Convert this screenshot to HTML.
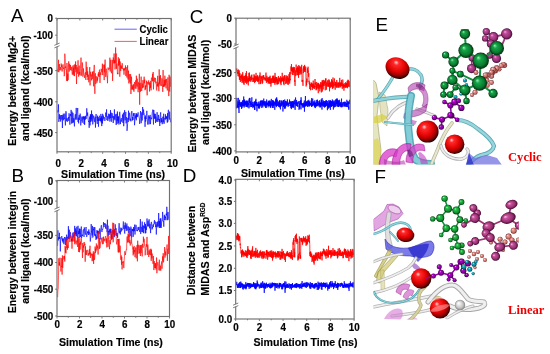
<!DOCTYPE html>
<html><head><meta charset="utf-8"><style>
html,body{margin:0;padding:0;background:#fff;}
svg{display:block}
text{font-family:'Liberation Sans', Arial, sans-serif;fill:#000}
.tk{font-size:11px;font-weight:bold;stroke:#000;stroke-width:0.2px}
.xt{font-size:10.6px;font-weight:bold;stroke:#000;stroke-width:0.15px}
.yl{font-size:10.6px;font-weight:bold;stroke:#000;stroke-width:0.15px}
.lg{font-size:10.3px;font-weight:bold;stroke:#000;stroke-width:0.15px}
.pl{font-size:18.8px}
.mt{font-family:'Liberation Serif','Times New Roman',serif;font-weight:bold;font-size:12.6px;fill:#ee0000}
</style></head><body>
<svg width="550" height="354" viewBox="0 0 550 354">
<rect width="550" height="354" fill="#fff"/>
<text x="11.0" y="21.9" class="pl">A</text>
<polyline points="57.60,69.2 57.90,71.8 58.20,69.0 58.50,59.8 58.80,72.2 59.10,69.6 59.40,64.0 59.70,70.2 60.00,69.0 60.30,68.6 60.61,67.2 60.91,70.4 61.21,63.5 61.51,66.9 61.81,65.3 62.11,71.5 62.41,68.6 62.71,66.9 63.01,64.3 63.31,67.5 63.61,69.0 63.91,67.4 64.21,76.2 64.51,74.5 64.81,53.7 65.11,58.3 65.41,67.9 65.71,66.5 66.01,70.0 66.32,70.0 66.62,80.9 66.92,63.0 67.22,67.3 67.52,81.1 67.82,73.5 68.12,80.1 68.42,67.4 68.72,61.3 69.02,71.7 69.32,71.4 69.62,63.8 69.92,66.7 70.22,70.0 70.52,65.0 70.82,69.6 71.12,70.5 71.42,70.1 71.72,66.9 72.03,72.9 72.33,74.7 72.63,71.7 72.93,65.5 73.23,74.3 73.53,67.6 73.83,75.5 74.13,64.8 74.43,76.1 74.73,71.0 75.03,64.2 75.33,69.3 75.63,61.4 75.93,72.2 76.23,65.0 76.53,84.0 76.83,71.3 77.13,67.3 77.44,71.1 77.74,73.8 78.04,60.3 78.34,71.1 78.64,76.7 78.94,68.3 79.24,65.6 79.54,74.5 79.84,71.9 80.14,75.6 80.44,68.8 80.74,62.7 81.04,57.6 81.34,68.7 81.64,75.7 81.94,72.5 82.24,62.4 82.54,65.0 82.84,76.7 83.15,75.7 83.45,68.4 83.75,72.2 84.05,74.9 84.35,75.3 84.65,77.9 84.95,74.7 85.25,72.9 85.55,72.3 85.85,79.9 86.15,61.7 86.45,73.8 86.75,75.0 87.05,66.9 87.35,76.8 87.65,71.4 87.95,80.0 88.25,74.6 88.55,79.1 88.86,82.3 89.16,77.7 89.46,70.7 89.76,67.1 90.06,85.4 90.36,75.0 90.66,71.7 90.96,76.4 91.26,74.5 91.56,80.4 91.86,75.9 92.16,75.9 92.46,72.0 92.76,79.1 93.06,71.1 93.36,81.1 93.66,86.3 93.96,69.7 94.26,64.9 94.57,82.6 94.87,93.8 95.17,74.4 95.47,73.3 95.77,83.9 96.07,76.1 96.37,77.6 96.67,78.2 96.97,82.7 97.27,77.1 97.57,80.6 97.87,77.7 98.17,73.7 98.47,76.1 98.77,72.1 99.07,77.0 99.37,70.2 99.67,69.6 99.97,82.9 100.28,73.6 100.58,72.6 100.88,74.9 101.18,68.8 101.48,69.1 101.78,72.3 102.08,71.6 102.38,63.7 102.68,75.0 102.98,67.1 103.28,64.7 103.58,65.7 103.88,68.7 104.18,80.1 104.48,64.6 104.78,72.3 105.08,59.6 105.38,71.7 105.69,76.9 105.99,70.7 106.29,68.7 106.59,73.7 106.89,76.4 107.19,76.2 107.49,83.2 107.79,72.6 108.09,67.5 108.39,69.5 108.69,69.1 108.99,69.5 109.29,68.0 109.59,68.5 109.89,57.7 110.19,71.5 110.49,63.4 110.79,59.8 111.09,69.7 111.40,73.3 111.70,68.5 112.00,66.3 112.30,59.9 112.60,80.9 112.90,69.3 113.20,57.5 113.50,58.9 113.80,63.3 114.10,53.5 114.40,63.3 114.70,59.9 115.00,69.4 115.30,68.0 115.60,47.5 115.90,62.9 116.20,53.5 116.50,68.8 116.80,63.4 117.11,65.5 117.41,74.1 117.71,72.9 118.01,74.2 118.31,57.3 118.61,65.8 118.91,60.6 119.21,64.9 119.51,58.6 119.81,76.7 120.11,61.5 120.41,65.9 120.71,71.0 121.01,65.2 121.31,68.1 121.61,66.4 121.91,68.9 122.21,63.2 122.51,67.4 122.82,68.8 123.12,68.2 123.42,70.5 123.72,68.7 124.02,74.7 124.32,68.8 124.62,70.3 124.92,67.9 125.22,69.1 125.52,65.5 125.82,75.9 126.12,67.1 126.42,69.8 126.72,76.6 127.02,77.6 127.32,73.7 127.62,65.3 127.92,79.6 128.22,79.3 128.53,70.6 128.83,83.4 129.13,75.8 129.43,74.1 129.73,81.6 130.03,80.6 130.33,83.5 130.63,74.1 130.93,94.0 131.23,81.2 131.53,76.7 131.83,89.5 132.13,84.8 132.43,89.4 132.73,86.4 133.03,88.5 133.33,90.2 133.63,84.2 133.94,91.7 134.24,84.8 134.54,82.1 134.84,87.0 135.14,88.6 135.44,84.4 135.74,80.4 136.04,88.7 136.34,75.7 136.64,80.0 136.94,86.3 137.24,78.7 137.54,86.8 137.84,86.6 138.14,92.2 138.44,82.3 138.74,84.2 139.04,89.5 139.34,73.8 139.65,104.7 139.95,83.3 140.25,83.0 140.55,91.7 140.85,86.5 141.15,76.6 141.45,90.0 141.75,91.0 142.05,83.5 142.35,84.1 142.65,88.2 142.95,80.1 143.25,87.4 143.55,85.8 143.85,80.8 144.15,76.7 144.45,83.2 144.75,79.6 145.05,90.2 145.36,85.5 145.66,89.2 145.96,85.7 146.26,86.5 146.56,80.7 146.86,89.0 147.16,95.3 147.46,83.6 147.76,81.8 148.06,84.0 148.36,81.9 148.66,80.4 148.96,84.8 149.26,82.1 149.56,91.5 149.86,83.2 150.16,84.8 150.46,88.1 150.76,80.9 151.07,90.4 151.37,78.7 151.67,77.6 151.97,79.9 152.27,81.1 152.57,73.8 152.87,81.3 153.17,72.0 153.47,89.4 153.77,81.5 154.07,78.7 154.37,77.6 154.67,80.9 154.97,82.1 155.27,77.9 155.57,78.9 155.87,83.4 156.17,81.7 156.47,89.6 156.78,90.5 157.08,83.9 157.38,86.2 157.68,75.8 157.98,86.6 158.28,82.6 158.58,85.2 158.88,91.2 159.18,69.4 159.48,83.7 159.78,76.1 160.08,85.7 160.38,75.1 160.68,79.8 160.98,83.8 161.28,86.1 161.58,83.2 161.88,78.4 162.19,79.7 162.49,87.6 162.79,91.9 163.09,70.1 163.39,86.9 163.69,84.4 163.99,86.8 164.29,79.9 164.59,86.3 164.89,75.7 165.19,85.1 165.49,79.5 165.79,86.3 166.09,88.4 166.39,78.9 166.69,83.0 166.99,83.8 167.29,90.5 167.59,88.1 167.90,77.4 168.20,86.8 168.50,88.4 168.80,96.1 169.10,74.8 169.40,81.1 169.70,91.6 170.00,76.5 170.30,77.3 170.60,86.9" fill="none" stroke="#ff0000" stroke-width="0.65" stroke-linejoin="round"/>
<polyline points="57.60,112.6 57.90,110.5 58.20,111.5 58.50,104.4 58.80,121.9 59.10,119.2 59.40,114.2 59.70,119.0 60.00,117.7 60.30,115.2 60.61,121.5 60.91,117.0 61.21,116.9 61.51,115.0 61.81,119.6 62.11,117.3 62.41,128.0 62.71,115.1 63.01,117.7 63.31,113.7 63.61,120.3 63.91,117.9 64.21,118.5 64.51,118.9 64.81,113.6 65.11,120.5 65.41,125.4 65.71,111.5 66.01,111.2 66.32,112.1 66.62,121.0 66.92,118.3 67.22,121.9 67.52,120.5 67.82,118.5 68.12,118.8 68.42,117.0 68.72,120.9 69.02,113.3 69.32,116.0 69.62,118.7 69.92,124.7 70.22,115.1 70.52,114.0 70.82,116.1 71.12,109.9 71.42,117.6 71.72,123.6 72.03,111.6 72.33,122.9 72.63,122.4 72.93,112.9 73.23,118.7 73.53,122.5 73.83,118.1 74.13,121.4 74.43,126.4 74.73,118.3 75.03,116.0 75.33,114.2 75.63,119.6 75.93,116.4 76.23,107.9 76.53,116.8 76.83,119.7 77.13,113.1 77.44,111.4 77.74,108.0 78.04,121.9 78.34,117.7 78.64,123.4 78.94,117.7 79.24,115.1 79.54,119.9 79.84,117.9 80.14,113.6 80.44,115.1 80.74,125.4 81.04,120.1 81.34,120.5 81.64,118.0 81.94,116.5 82.24,122.7 82.54,119.0 82.84,116.7 83.15,119.2 83.45,116.4 83.75,120.6 84.05,124.0 84.35,116.4 84.65,124.9 84.95,116.7 85.25,119.7 85.55,115.8 85.85,118.0 86.15,118.9 86.45,116.9 86.75,108.3 87.05,115.9 87.35,115.4 87.65,112.5 87.95,117.5 88.25,120.0 88.55,121.9 88.86,120.9 89.16,127.8 89.46,119.6 89.76,116.6 90.06,125.4 90.36,114.3 90.66,121.9 90.96,114.5 91.26,119.4 91.56,110.5 91.86,121.3 92.16,117.2 92.46,114.2 92.76,124.4 93.06,121.1 93.36,118.5 93.66,115.6 93.96,118.4 94.26,118.1 94.57,121.6 94.87,122.1 95.17,116.7 95.47,127.6 95.77,117.1 96.07,114.0 96.37,116.8 96.67,118.6 96.97,121.6 97.27,123.9 97.57,115.7 97.87,120.9 98.17,117.0 98.47,126.7 98.77,118.8 99.07,121.0 99.37,115.7 99.67,116.3 99.97,120.2 100.28,118.1 100.58,121.1 100.88,113.9 101.18,122.4 101.48,116.3 101.78,126.1 102.08,118.3 102.38,123.5 102.68,113.8 102.98,120.6 103.28,115.5 103.58,116.9 103.88,118.7 104.18,117.2 104.48,119.3 104.78,121.0 105.08,120.5 105.38,117.6 105.69,112.6 105.99,114.6 106.29,116.8 106.59,109.3 106.89,120.1 107.19,116.4 107.49,116.4 107.79,121.0 108.09,120.0 108.39,118.3 108.69,113.7 108.99,118.7 109.29,118.9 109.59,114.3 109.89,121.6 110.19,119.5 110.49,110.1 110.79,118.0 111.09,112.7 111.40,121.7 111.70,120.4 112.00,113.1 112.30,113.9 112.60,117.6 112.90,116.3 113.20,123.0 113.50,120.0 113.80,116.1 114.10,119.3 114.40,109.4 114.70,118.2 115.00,120.3 115.30,116.3 115.60,114.3 115.90,119.5 116.20,125.0 116.50,118.6 116.80,113.8 117.11,123.9 117.41,111.5 117.71,120.8 118.01,116.9 118.31,122.9 118.61,116.3 118.91,124.5 119.21,120.6 119.51,112.8 119.81,111.8 120.11,118.1 120.41,124.1 120.71,119.7 121.01,119.4 121.31,118.2 121.61,121.7 121.91,120.1 122.21,119.5 122.51,114.5 122.82,122.6 123.12,123.0 123.42,112.7 123.72,126.2 124.02,120.0 124.32,115.3 124.62,110.2 124.92,120.3 125.22,120.2 125.52,116.1 125.82,111.9 126.12,123.3 126.42,117.1 126.72,117.9 127.02,130.8 127.32,128.1 127.62,123.5 127.92,117.9 128.22,122.0 128.53,110.7 128.83,119.6 129.13,116.2 129.43,114.0 129.73,112.7 130.03,120.6 130.33,118.8 130.63,118.9 130.93,121.4 131.23,114.9 131.53,113.3 131.83,111.1 132.13,116.4 132.43,120.5 132.73,116.9 133.03,119.9 133.33,113.1 133.63,115.9 133.94,114.9 134.24,113.2 134.54,125.2 134.84,121.5 135.14,115.5 135.44,115.6 135.74,118.5 136.04,113.2 136.34,120.3 136.64,113.7 136.94,117.2 137.24,114.6 137.54,116.6 137.84,113.4 138.14,112.4 138.44,114.7 138.74,115.7 139.04,117.1 139.34,118.4 139.65,123.9 139.95,121.1 140.25,117.0 140.55,111.1 140.85,115.2 141.15,123.2 141.45,119.7 141.75,112.4 142.05,120.3 142.35,120.4 142.65,107.0 142.95,114.2 143.25,115.1 143.55,109.5 143.85,112.7 144.15,113.0 144.45,118.4 144.75,117.7 145.05,126.8 145.36,115.5 145.66,121.6 145.96,117.7 146.26,118.7 146.56,113.4 146.86,110.8 147.16,115.3 147.46,121.3 147.76,124.5 148.06,120.8 148.36,120.4 148.66,115.4 148.96,124.4 149.26,123.7 149.56,116.6 149.86,118.5 150.16,114.9 150.46,124.1 150.76,119.8 151.07,117.6 151.37,119.2 151.67,119.0 151.97,115.5 152.27,112.1 152.57,111.6 152.87,109.6 153.17,117.6 153.47,124.5 153.77,110.0 154.07,117.3 154.37,118.7 154.67,113.7 154.97,118.5 155.27,113.9 155.57,123.0 155.87,116.5 156.17,119.4 156.47,121.6 156.78,117.4 157.08,112.2 157.38,117.0 157.68,121.9 157.98,118.7 158.28,119.9 158.58,114.9 158.88,119.6 159.18,121.8 159.48,119.0 159.78,126.0 160.08,117.9 160.38,114.6 160.68,112.3 160.98,122.7 161.28,118.0 161.58,122.0 161.88,119.7 162.19,124.2 162.49,122.9 162.79,116.7 163.09,119.3 163.39,122.4 163.69,113.7 163.99,123.9 164.29,123.1 164.59,122.3 164.89,117.8 165.19,119.7 165.49,114.3 165.79,118.7 166.09,116.2 166.39,118.7 166.69,116.5 166.99,119.4 167.29,122.7 167.59,113.2 167.90,121.7 168.20,110.5 168.50,109.8 168.80,117.5 169.10,118.0 169.40,119.6 169.70,111.6 170.00,117.5 170.30,118.2 170.60,122.4" fill="none" stroke="#0000ff" stroke-width="0.65" stroke-linejoin="round"/>
<rect x="57" y="18.5" width="114.2" height="133.3" fill="none" stroke="#707070" stroke-width="1.15"/>
<line x1="57" y1="151.8" x2="57" y2="153.8" stroke="#707070" stroke-width="0.9"/>
<line x1="57" y1="18.5" x2="57" y2="20.5" stroke="#707070" stroke-width="0.9"/>
<line x1="68.42" y1="151.8" x2="68.42" y2="153.1" stroke="#707070" stroke-width="0.9"/>
<line x1="68.42" y1="18.5" x2="68.42" y2="19.8" stroke="#707070" stroke-width="0.9"/>
<line x1="79.84" y1="151.8" x2="79.84" y2="153.8" stroke="#707070" stroke-width="0.9"/>
<line x1="79.84" y1="18.5" x2="79.84" y2="20.5" stroke="#707070" stroke-width="0.9"/>
<line x1="91.26" y1="151.8" x2="91.26" y2="153.1" stroke="#707070" stroke-width="0.9"/>
<line x1="91.26" y1="18.5" x2="91.26" y2="19.8" stroke="#707070" stroke-width="0.9"/>
<line x1="102.68" y1="151.8" x2="102.68" y2="153.8" stroke="#707070" stroke-width="0.9"/>
<line x1="102.68" y1="18.5" x2="102.68" y2="20.5" stroke="#707070" stroke-width="0.9"/>
<line x1="114.1" y1="151.8" x2="114.1" y2="153.1" stroke="#707070" stroke-width="0.9"/>
<line x1="114.1" y1="18.5" x2="114.1" y2="19.8" stroke="#707070" stroke-width="0.9"/>
<line x1="125.52" y1="151.8" x2="125.52" y2="153.8" stroke="#707070" stroke-width="0.9"/>
<line x1="125.52" y1="18.5" x2="125.52" y2="20.5" stroke="#707070" stroke-width="0.9"/>
<line x1="136.94" y1="151.8" x2="136.94" y2="153.1" stroke="#707070" stroke-width="0.9"/>
<line x1="136.94" y1="18.5" x2="136.94" y2="19.8" stroke="#707070" stroke-width="0.9"/>
<line x1="148.36" y1="151.8" x2="148.36" y2="153.8" stroke="#707070" stroke-width="0.9"/>
<line x1="148.36" y1="18.5" x2="148.36" y2="20.5" stroke="#707070" stroke-width="0.9"/>
<line x1="159.78" y1="151.8" x2="159.78" y2="153.1" stroke="#707070" stroke-width="0.9"/>
<line x1="159.78" y1="18.5" x2="159.78" y2="19.8" stroke="#707070" stroke-width="0.9"/>
<line x1="171.2" y1="151.8" x2="171.2" y2="153.8" stroke="#707070" stroke-width="0.9"/>
<line x1="171.2" y1="18.5" x2="171.2" y2="20.5" stroke="#707070" stroke-width="0.9"/>
<text x="58.3" y="167.2" text-anchor="middle" class="tk" textLength="5.45" lengthAdjust="spacingAndGlyphs">0</text>
<text x="81.14" y="167.2" text-anchor="middle" class="tk" textLength="5.45" lengthAdjust="spacingAndGlyphs">2</text>
<text x="103.98" y="167.2" text-anchor="middle" class="tk" textLength="5.45" lengthAdjust="spacingAndGlyphs">4</text>
<text x="126.82" y="167.2" text-anchor="middle" class="tk" textLength="5.45" lengthAdjust="spacingAndGlyphs">6</text>
<text x="149.66" y="167.2" text-anchor="middle" class="tk" textLength="5.45" lengthAdjust="spacingAndGlyphs">8</text>
<text x="172.5" y="167.2" text-anchor="middle" class="tk" textLength="10.9" lengthAdjust="spacingAndGlyphs">10</text>
<line x1="55.2" y1="18.2" x2="57" y2="18.2" stroke="#707070" stroke-width="1"/>
<text x="53" y="22.1" text-anchor="end" class="tk" textLength="5.45" lengthAdjust="spacingAndGlyphs">0</text>
<line x1="55.2" y1="35.2" x2="57" y2="35.2" stroke="#707070" stroke-width="1"/>
<text x="53" y="39.1" text-anchor="end" class="tk" textLength="19.61" lengthAdjust="spacingAndGlyphs">-100</text>
<line x1="55.2" y1="70.6" x2="57" y2="70.6" stroke="#707070" stroke-width="1"/>
<text x="53" y="74.5" text-anchor="end" class="tk" textLength="19.61" lengthAdjust="spacingAndGlyphs">-350</text>
<line x1="55.2" y1="101.8" x2="57" y2="101.8" stroke="#707070" stroke-width="1"/>
<text x="53" y="105.7" text-anchor="end" class="tk" textLength="19.61" lengthAdjust="spacingAndGlyphs">-400</text>
<line x1="55.2" y1="132.6" x2="57" y2="132.6" stroke="#707070" stroke-width="1"/>
<text x="53" y="136.5" text-anchor="end" class="tk" textLength="19.61" lengthAdjust="spacingAndGlyphs">-450</text>
<rect x="54" y="44.3" width="6" height="2.4" fill="#fff"/>
<line x1="54.4" y1="45.3" x2="59.6" y2="43.1" stroke="#707070" stroke-width="0.9"/>
<line x1="54.4" y1="47.9" x2="59.6" y2="45.7" stroke="#707070" stroke-width="0.9"/>
<text x="61.1" y="177.5" class="xt">Simulation Time (ns)</text>
<text transform="translate(15.6,145.7) rotate(-90)" class="yl" textLength="109.8" lengthAdjust="spacingAndGlyphs">Energy between Mg2+</text>
<text transform="translate(28.6,141.2) rotate(-90)" class="yl" textLength="105.7" lengthAdjust="spacingAndGlyphs">and ligand (kcal/mol)</text>
<line x1="114.5" y1="29.2" x2="136.8" y2="29.2" stroke="#6464ff" stroke-width="1"/>
<line x1="114.5" y1="41.4" x2="136.8" y2="41.4" stroke="#ff5a5a" stroke-width="1"/>
<text x="139.6" y="32.9" class="lg" textLength="28.3" lengthAdjust="spacingAndGlyphs">Cyclic</text>
<text x="139.6" y="45.1" class="lg" textLength="28.8" lengthAdjust="spacingAndGlyphs">Linear</text>
<text x="11.4" y="181.6" class="pl">B</text>
<polyline points="57.60,245.8 57.90,230.3 58.20,240.5 58.50,237.3 58.80,237.8 59.10,238.8 59.40,232.8 59.70,239.0 60.00,237.0 60.30,251.4 60.60,240.9 60.90,238.8 61.20,239.0 61.50,237.5 61.80,236.1 62.10,238.3 62.40,241.2 62.70,238.6 63.00,242.6 63.30,238.5 63.60,239.2 63.90,244.2 64.20,240.7 64.50,237.0 64.80,238.0 65.10,240.4 65.40,245.0 65.70,237.4 66.00,237.4 66.30,241.4 66.60,234.7 66.90,236.4 67.20,240.1 67.50,238.7 67.80,236.8 68.10,238.4 68.40,226.2 68.70,239.0 69.00,232.0 69.30,229.7 69.60,236.5 69.90,238.1 70.20,234.3 70.50,232.3 70.80,236.2 71.10,236.1 71.40,241.2 71.70,239.1 72.00,241.5 72.30,240.0 72.60,235.3 72.90,232.6 73.20,237.5 73.50,237.2 73.80,234.3 74.10,232.1 74.40,235.3 74.70,225.9 75.00,236.6 75.30,235.8 75.60,228.4 75.90,234.1 76.20,230.5 76.50,236.3 76.80,226.7 77.10,230.4 77.40,235.8 77.70,237.2 78.00,225.8 78.30,231.4 78.60,234.1 78.90,230.8 79.20,238.2 79.50,228.6 79.80,233.8 80.10,228.9 80.40,237.2 80.70,232.3 81.00,231.1 81.30,226.5 81.60,238.0 81.90,234.8 82.20,234.8 82.50,236.1 82.80,233.4 83.10,230.0 83.40,229.4 83.70,229.5 84.00,236.9 84.30,227.4 84.60,230.4 84.90,231.4 85.20,233.3 85.50,234.6 85.80,228.5 86.10,227.0 86.40,232.8 86.70,236.9 87.00,235.2 87.30,233.3 87.60,231.4 87.90,233.4 88.20,231.5 88.50,235.0 88.80,229.4 89.10,232.6 89.40,231.9 89.70,234.3 90.00,233.4 90.30,241.5 90.60,238.1 90.90,238.2 91.20,224.1 91.50,232.3 91.80,231.6 92.10,235.4 92.40,225.9 92.70,237.6 93.00,237.2 93.30,229.1 93.60,230.2 93.90,227.0 94.20,233.6 94.50,235.6 94.80,227.2 95.10,232.9 95.40,236.3 95.70,234.3 96.00,239.9 96.30,236.5 96.60,238.7 96.90,230.2 97.20,233.1 97.50,230.8 97.80,238.5 98.10,235.3 98.40,231.7 98.70,230.9 99.00,233.8 99.30,229.5 99.60,228.5 99.90,233.0 100.20,239.4 100.50,229.9 100.80,228.5 101.10,226.1 101.40,225.2 101.70,231.2 102.00,232.0 102.30,228.8 102.60,229.6 102.90,228.6 103.20,228.3 103.50,222.2 103.80,225.5 104.10,227.0 104.40,223.5 104.70,224.5 105.00,223.2 105.30,224.7 105.60,228.6 105.90,224.2 106.20,225.0 106.50,228.6 106.80,228.4 107.10,232.2 107.40,219.7 107.70,230.0 108.00,225.7 108.30,235.8 108.60,230.8 108.90,232.0 109.20,232.2 109.50,229.5 109.80,234.8 110.10,228.7 110.40,229.5 110.70,233.0 111.00,228.8 111.30,238.3 111.60,234.7 111.90,239.0 112.20,231.6 112.50,230.4 112.80,232.3 113.10,234.2 113.40,229.7 113.70,233.0 114.00,231.7 114.30,237.2 114.60,229.5 114.90,235.4 115.20,224.3 115.50,228.8 115.80,229.7 116.10,228.2 116.40,232.9 116.70,235.9 117.00,232.9 117.30,234.5 117.60,237.8 117.90,233.0 118.20,232.6 118.50,230.8 118.80,226.1 119.10,223.2 119.40,225.2 119.70,233.2 120.00,230.7 120.30,234.4 120.60,230.3 120.90,227.6 121.20,231.6 121.50,228.4 121.80,229.6 122.10,230.3 122.40,229.6 122.70,229.4 123.00,227.1 123.30,221.5 123.60,222.5 123.90,229.1 124.20,225.4 124.50,233.2 124.80,233.6 125.10,222.6 125.40,222.7 125.70,228.6 126.00,225.4 126.30,230.9 126.60,227.7 126.90,223.5 127.20,228.8 127.50,229.4 127.80,230.5 128.10,226.2 128.40,232.7 128.70,233.3 129.00,227.0 129.30,228.5 129.60,230.3 129.90,228.5 130.20,236.2 130.50,230.9 130.80,226.6 131.10,227.2 131.40,229.5 131.70,237.3 132.00,228.8 132.30,229.8 132.60,231.0 132.90,229.0 133.20,236.8 133.50,227.1 133.80,231.4 134.10,229.3 134.40,230.8 134.70,224.6 135.00,234.5 135.30,227.9 135.60,228.3 135.90,224.8 136.20,225.4 136.50,229.6 136.80,230.8 137.10,229.9 137.40,231.2 137.70,229.5 138.00,227.2 138.30,230.0 138.60,229.2 138.90,226.9 139.20,229.7 139.50,231.7 139.80,228.1 140.10,226.2 140.40,219.2 140.70,233.9 141.00,226.8 141.30,227.3 141.60,227.3 141.90,232.0 142.20,221.6 142.50,229.2 142.80,232.1 143.10,225.4 143.40,233.2 143.70,229.8 144.00,225.9 144.30,228.3 144.60,222.3 144.90,225.4 145.20,233.4 145.50,224.0 145.80,233.1 146.10,226.4 146.40,229.9 146.70,226.4 147.00,218.5 147.30,224.0 147.60,226.4 147.90,221.6 148.20,220.8 148.50,226.4 148.80,222.8 149.10,219.3 149.40,222.9 149.70,228.3 150.00,223.9 150.30,228.9 150.60,233.1 150.90,226.1 151.20,222.4 151.50,221.9 151.80,226.4 152.10,229.4 152.40,227.3 152.70,228.1 153.00,224.6 153.30,227.0 153.60,224.3 153.90,224.7 154.20,221.3 154.50,220.2 154.80,223.8 155.10,221.5 155.40,221.8 155.70,227.2 156.00,224.4 156.30,234.5 156.60,227.6 156.90,222.1 157.20,226.7 157.50,225.2 157.80,221.5 158.10,227.4 158.40,220.9 158.70,213.0 159.00,226.0 159.30,221.0 159.60,228.0 159.90,220.6 160.20,218.6 160.50,227.5 160.80,218.3 161.10,228.0 161.40,226.3 161.70,221.4 162.00,220.5 162.30,220.8 162.60,211.9 162.90,217.1 163.20,221.6 163.50,221.1 163.80,226.7 164.10,217.2 164.40,214.8 164.70,220.1 165.00,215.9 165.30,217.9 165.60,217.1 165.90,220.2 166.20,213.7 166.50,215.4 166.80,206.8 167.10,212.2 167.40,220.2 167.70,212.4 168.00,213.1 168.30,212.4 168.60,219.6 168.90,219.4" fill="none" stroke="#0000ff" stroke-width="0.65" stroke-linejoin="round"/>
<polyline points="57.60,297.1 57.90,290.0 58.20,288.8 58.50,275.1 58.80,258.3 59.10,265.4 59.40,262.4 59.70,265.6 60.00,257.7 60.30,265.7 60.60,265.6 60.90,271.5 61.20,266.0 61.50,267.0 61.80,258.2 62.10,274.6 62.40,255.4 62.70,267.9 63.00,260.7 63.30,257.5 63.60,257.2 63.90,255.9 64.20,259.3 64.50,255.9 64.80,261.6 65.10,245.8 65.40,252.6 65.70,247.3 66.00,253.3 66.30,239.5 66.60,246.4 66.90,248.0 67.20,239.7 67.50,249.7 67.80,245.3 68.10,248.0 68.40,247.0 68.70,237.6 69.00,237.5 69.30,239.1 69.60,230.3 69.90,242.0 70.20,235.4 70.50,236.1 70.80,235.5 71.10,236.6 71.40,238.4 71.70,239.1 72.00,248.7 72.30,237.3 72.60,238.0 72.90,241.1 73.20,234.7 73.50,237.1 73.80,238.6 74.10,241.7 74.40,232.4 74.70,244.2 75.00,236.9 75.30,239.5 75.60,242.9 75.90,242.4 76.20,244.5 76.50,241.0 76.80,240.5 77.10,242.3 77.40,236.9 77.70,247.0 78.00,238.6 78.30,236.9 78.60,251.9 78.90,242.6 79.20,238.5 79.50,252.2 79.80,243.0 80.10,249.5 80.40,241.6 80.70,244.5 81.00,238.4 81.30,237.7 81.60,242.1 81.90,246.3 82.20,250.5 82.50,257.9 82.80,243.0 83.10,252.3 83.40,245.4 83.70,247.6 84.00,242.0 84.30,242.2 84.60,245.5 84.90,243.8 85.20,261.7 85.50,246.4 85.80,255.0 86.10,250.2 86.40,250.4 86.70,254.9 87.00,252.4 87.30,250.2 87.60,250.2 87.90,250.2 88.20,255.7 88.50,254.6 88.80,253.0 89.10,255.1 89.40,249.3 89.70,254.0 90.00,245.7 90.30,257.9 90.60,252.5 90.90,253.0 91.20,255.6 91.50,253.9 91.80,253.9 92.10,261.2 92.40,257.4 92.70,253.8 93.00,260.6 93.30,251.3 93.60,263.9 93.90,253.6 94.20,252.4 94.50,259.9 94.80,257.4 95.10,246.5 95.40,253.1 95.70,248.7 96.00,251.4 96.30,243.5 96.60,244.7 96.90,249.6 97.20,245.4 97.50,247.6 97.80,246.8 98.10,254.5 98.40,240.0 98.70,231.9 99.00,242.2 99.30,249.1 99.60,238.1 99.90,248.2 100.20,246.9 100.50,242.1 100.80,242.0 101.10,242.2 101.40,237.8 101.70,240.2 102.00,241.0 102.30,243.7 102.60,244.2 102.90,237.3 103.20,243.9 103.50,236.7 103.80,239.2 104.10,241.4 104.40,239.5 104.70,238.9 105.00,240.5 105.30,236.7 105.60,236.1 105.90,237.9 106.20,242.9 106.50,238.5 106.80,247.4 107.10,240.1 107.40,226.2 107.70,237.4 108.00,246.8 108.30,239.5 108.60,237.7 108.90,235.9 109.20,245.2 109.50,249.2 109.80,241.6 110.10,240.1 110.40,244.2 110.70,241.1 111.00,231.7 111.30,240.1 111.60,237.0 111.90,235.5 112.20,239.3 112.50,235.9 112.80,222.7 113.10,242.3 113.40,239.9 113.70,223.0 114.00,233.4 114.30,235.9 114.60,229.1 114.90,235.6 115.20,232.5 115.50,231.4 115.80,230.3 116.10,232.7 116.40,242.0 116.70,244.4 117.00,242.1 117.30,241.1 117.60,238.9 117.90,247.3 118.20,252.3 118.50,239.2 118.80,252.5 119.10,238.8 119.40,247.9 119.70,252.2 120.00,245.6 120.30,246.4 120.60,255.4 120.90,259.8 121.20,255.3 121.50,264.7 121.80,256.8 122.10,269.4 122.40,262.0 122.70,261.9 123.00,263.0 123.30,261.2 123.60,267.2 123.90,268.1 124.20,260.1 124.50,256.3 124.80,251.2 125.10,252.4 125.40,255.0 125.70,253.0 126.00,251.3 126.30,249.7 126.60,250.0 126.90,238.5 127.20,236.5 127.50,242.5 127.80,238.9 128.10,233.6 128.40,242.4 128.70,234.5 129.00,237.1 129.30,230.8 129.60,243.2 129.90,240.1 130.20,245.5 130.50,244.5 130.80,242.5 131.10,243.4 131.40,231.5 131.70,243.2 132.00,243.9 132.30,245.5 132.60,249.3 132.90,250.4 133.20,255.4 133.50,247.2 133.80,253.8 134.10,245.9 134.40,252.1 134.70,250.0 135.00,257.1 135.30,252.1 135.60,247.4 135.90,251.9 136.20,258.4 136.50,247.9 136.80,247.9 137.10,245.0 137.40,261.3 137.70,240.7 138.00,253.9 138.30,244.7 138.60,245.4 138.90,249.7 139.20,249.5 139.50,253.4 139.80,245.3 140.10,251.9 140.40,256.0 140.70,245.2 141.00,253.1 141.30,244.8 141.60,250.5 141.90,250.5 142.20,256.4 142.50,243.8 142.80,245.7 143.10,247.7 143.40,236.7 143.70,242.2 144.00,238.7 144.30,239.8 144.60,246.3 144.90,246.7 145.20,255.3 145.50,250.4 145.80,250.3 146.10,244.3 146.40,244.2 146.70,246.7 147.00,236.9 147.30,255.0 147.60,245.5 147.90,244.6 148.20,248.0 148.50,254.6 148.80,257.0 149.10,250.5 149.40,254.6 149.70,252.9 150.00,249.3 150.30,255.0 150.60,255.0 150.90,248.7 151.20,260.9 151.50,249.8 151.80,258.3 152.10,253.5 152.40,255.4 152.70,256.7 153.00,263.8 153.30,256.0 153.60,261.5 153.90,270.1 154.20,261.0 154.50,264.7 154.80,268.1 155.10,263.0 155.40,268.0 155.70,263.3 156.00,269.6 156.30,267.1 156.60,257.5 156.90,273.2 157.20,266.2 157.50,265.1 157.80,262.1 158.10,264.0 158.40,265.5 158.70,266.5 159.00,270.4 159.30,259.7 159.60,263.8 159.90,270.5 160.20,265.6 160.50,266.0 160.80,270.6 161.10,264.4 161.40,264.3 161.70,261.4 162.00,268.7 162.30,264.9 162.60,256.4 162.90,261.3 163.20,253.2 163.50,262.4 163.80,259.9 164.10,255.6 164.40,253.8 164.70,247.0 165.00,257.6 165.30,253.0 165.60,251.5 165.90,255.4 166.20,248.6 166.50,248.4 166.80,247.5 167.10,244.5 167.40,260.9 167.70,249.3 168.00,248.5 168.30,253.9 168.60,235.9 168.90,249.5" fill="none" stroke="#ff0000" stroke-width="0.65" stroke-linejoin="round"/>
<rect x="57" y="180.5" width="112.5" height="136" fill="none" stroke="#707070" stroke-width="1.15"/>
<line x1="57" y1="316.5" x2="57" y2="318.5" stroke="#707070" stroke-width="0.9"/>
<line x1="57" y1="180.5" x2="57" y2="182.5" stroke="#707070" stroke-width="0.9"/>
<line x1="68.25" y1="316.5" x2="68.25" y2="317.8" stroke="#707070" stroke-width="0.9"/>
<line x1="68.25" y1="180.5" x2="68.25" y2="181.8" stroke="#707070" stroke-width="0.9"/>
<line x1="79.5" y1="316.5" x2="79.5" y2="318.5" stroke="#707070" stroke-width="0.9"/>
<line x1="79.5" y1="180.5" x2="79.5" y2="182.5" stroke="#707070" stroke-width="0.9"/>
<line x1="90.75" y1="316.5" x2="90.75" y2="317.8" stroke="#707070" stroke-width="0.9"/>
<line x1="90.75" y1="180.5" x2="90.75" y2="181.8" stroke="#707070" stroke-width="0.9"/>
<line x1="102" y1="316.5" x2="102" y2="318.5" stroke="#707070" stroke-width="0.9"/>
<line x1="102" y1="180.5" x2="102" y2="182.5" stroke="#707070" stroke-width="0.9"/>
<line x1="113.25" y1="316.5" x2="113.25" y2="317.8" stroke="#707070" stroke-width="0.9"/>
<line x1="113.25" y1="180.5" x2="113.25" y2="181.8" stroke="#707070" stroke-width="0.9"/>
<line x1="124.5" y1="316.5" x2="124.5" y2="318.5" stroke="#707070" stroke-width="0.9"/>
<line x1="124.5" y1="180.5" x2="124.5" y2="182.5" stroke="#707070" stroke-width="0.9"/>
<line x1="135.75" y1="316.5" x2="135.75" y2="317.8" stroke="#707070" stroke-width="0.9"/>
<line x1="135.75" y1="180.5" x2="135.75" y2="181.8" stroke="#707070" stroke-width="0.9"/>
<line x1="147" y1="316.5" x2="147" y2="318.5" stroke="#707070" stroke-width="0.9"/>
<line x1="147" y1="180.5" x2="147" y2="182.5" stroke="#707070" stroke-width="0.9"/>
<line x1="158.25" y1="316.5" x2="158.25" y2="317.8" stroke="#707070" stroke-width="0.9"/>
<line x1="158.25" y1="180.5" x2="158.25" y2="181.8" stroke="#707070" stroke-width="0.9"/>
<line x1="169.5" y1="316.5" x2="169.5" y2="318.5" stroke="#707070" stroke-width="0.9"/>
<line x1="169.5" y1="180.5" x2="169.5" y2="182.5" stroke="#707070" stroke-width="0.9"/>
<text x="57.3" y="328.2" text-anchor="middle" class="tk" textLength="5.45" lengthAdjust="spacingAndGlyphs">0</text>
<text x="79.8" y="328.2" text-anchor="middle" class="tk" textLength="5.45" lengthAdjust="spacingAndGlyphs">2</text>
<text x="102.3" y="328.2" text-anchor="middle" class="tk" textLength="5.45" lengthAdjust="spacingAndGlyphs">4</text>
<text x="124.8" y="328.2" text-anchor="middle" class="tk" textLength="5.45" lengthAdjust="spacingAndGlyphs">6</text>
<text x="147.3" y="328.2" text-anchor="middle" class="tk" textLength="5.45" lengthAdjust="spacingAndGlyphs">8</text>
<text x="169.8" y="328.2" text-anchor="middle" class="tk" textLength="10.9" lengthAdjust="spacingAndGlyphs">10</text>
<line x1="55.2" y1="180.8" x2="57" y2="180.8" stroke="#707070" stroke-width="1"/>
<text x="53.3" y="184.7" text-anchor="end" class="tk" textLength="5.45" lengthAdjust="spacingAndGlyphs">0</text>
<line x1="55.2" y1="201.1" x2="57" y2="201.1" stroke="#707070" stroke-width="1"/>
<text x="53.3" y="205" text-anchor="end" class="tk" textLength="19.61" lengthAdjust="spacingAndGlyphs">-100</text>
<line x1="55.2" y1="235.4" x2="57" y2="235.4" stroke="#707070" stroke-width="1"/>
<text x="53.3" y="239.3" text-anchor="end" class="tk" textLength="19.61" lengthAdjust="spacingAndGlyphs">-350</text>
<line x1="55.2" y1="262.5" x2="57" y2="262.5" stroke="#707070" stroke-width="1"/>
<text x="53.3" y="266.4" text-anchor="end" class="tk" textLength="19.61" lengthAdjust="spacingAndGlyphs">-400</text>
<line x1="55.2" y1="289.2" x2="57" y2="289.2" stroke="#707070" stroke-width="1"/>
<text x="53.3" y="293.1" text-anchor="end" class="tk" textLength="19.61" lengthAdjust="spacingAndGlyphs">-450</text>
<line x1="55.2" y1="316" x2="57" y2="316" stroke="#707070" stroke-width="1"/>
<text x="53.3" y="319.9" text-anchor="end" class="tk" textLength="19.61" lengthAdjust="spacingAndGlyphs">-500</text>
<rect x="54" y="208.2" width="6" height="2.4" fill="#fff"/>
<line x1="54.4" y1="209.2" x2="59.6" y2="207" stroke="#707070" stroke-width="0.9"/>
<line x1="54.4" y1="211.8" x2="59.6" y2="209.6" stroke="#707070" stroke-width="0.9"/>
<text x="58.9" y="345.7" class="xt">Simulation Time (ns)</text>
<text transform="translate(15.6,313.2) rotate(-90)" class="yl" textLength="122.4" lengthAdjust="spacingAndGlyphs">Energy between integrin</text>
<text transform="translate(29.2,303.8) rotate(-90)" class="yl" textLength="105.4" lengthAdjust="spacingAndGlyphs">and ligand (kcal/mol)</text>
<text x="189.8" y="23.4" class="pl">C</text>
<polyline points="236.60,70.2 236.72,68.4 236.84,68.5 236.96,71.1 237.08,72.3 237.20,69.9 237.32,71.5 237.44,73.2 237.56,72.2 237.68,73.6 237.80,72.7 237.92,72.8 238.04,76.2 238.16,73.2 238.28,72.1 238.40,73.6 238.52,69.6 238.64,71.1 238.76,73.9 238.88,73.7 239.00,76.6 239.12,73.4 239.24,70.4 239.36,79.5 239.48,78.0 239.60,73.3 239.72,80.0 239.84,77.3 239.96,73.3 240.08,77.0 240.20,76.7 240.32,82.0 240.44,76.0 240.56,77.4 240.68,77.3 240.80,77.1 240.92,75.8 241.04,78.6 241.16,80.8 241.28,79.6 241.40,75.8 241.52,75.2 241.64,78.4 241.76,76.3 241.88,76.5 242.00,73.9 242.12,83.0 242.24,80.4 242.36,75.7 242.48,80.4 242.60,81.5 242.72,72.2 242.84,76.8 242.96,77.2 243.08,79.8 243.20,77.9 243.32,77.6 243.44,78.0 243.56,82.8 243.69,83.6 243.81,76.9 243.93,75.9 244.05,84.9 244.17,75.8 244.29,76.8 244.41,78.3 244.53,79.4 244.65,80.8 244.77,79.2 244.89,76.1 245.01,79.5 245.13,78.9 245.25,83.0 245.37,78.2 245.49,74.9 245.61,75.7 245.73,81.9 245.85,77.0 245.97,73.0 246.09,76.9 246.21,78.3 246.33,81.3 246.45,71.1 246.57,80.0 246.69,84.1 246.81,76.6 246.93,77.9 247.05,82.8 247.17,82.7 247.29,80.5 247.41,79.2 247.53,81.2 247.65,78.0 247.77,78.2 247.89,76.3 248.01,78.4 248.13,78.2 248.25,85.4 248.37,78.0 248.49,81.6 248.61,81.7 248.73,78.0 248.85,81.4 248.97,73.0 249.09,78.7 249.21,80.6 249.33,72.5 249.45,75.6 249.57,81.1 249.69,77.9 249.81,75.8 249.93,77.6 250.05,77.2 250.17,80.3 250.29,79.7 250.41,77.8 250.53,76.9 250.65,78.4 250.77,81.9 250.89,79.4 251.01,80.2 251.13,78.2 251.25,75.4 251.37,76.8 251.49,80.2 251.61,78.9 251.73,76.4 251.85,74.6 251.97,78.9 252.09,77.8 252.21,77.8 252.33,77.8 252.45,79.4 252.57,79.4 252.69,81.1 252.81,81.0 252.93,82.0 253.05,80.7 253.17,77.8 253.29,78.6 253.41,79.9 253.53,77.9 253.65,80.1 253.77,81.6 253.89,76.7 254.01,74.3 254.13,81.7 254.25,78.8 254.37,80.5 254.49,75.4 254.61,83.1 254.73,80.6 254.85,78.5 254.97,77.9 255.09,79.1 255.21,78.4 255.33,78.1 255.45,76.0 255.57,82.0 255.69,78.7 255.81,79.0 255.93,79.1 256.05,72.9 256.17,80.2 256.29,78.0 256.41,78.1 256.53,79.0 256.65,76.4 256.77,81.0 256.89,77.1 257.01,76.6 257.13,76.7 257.25,79.3 257.37,80.8 257.49,77.4 257.61,75.1 257.73,81.6 257.86,76.3 257.98,81.9 258.10,78.8 258.22,77.2 258.34,77.4 258.46,80.1 258.58,81.2 258.70,78.5 258.82,81.3 258.94,84.2 259.06,78.5 259.18,76.1 259.30,76.4 259.42,75.5 259.54,77.4 259.66,77.2 259.78,75.7 259.90,80.4 260.02,72.5 260.14,75.7 260.26,84.1 260.38,81.7 260.50,80.4 260.62,80.2 260.74,83.5 260.86,80.4 260.98,79.3 261.10,76.0 261.22,78.9 261.34,77.3 261.46,77.3 261.58,77.3 261.70,79.0 261.82,78.3 261.94,81.3 262.06,75.8 262.18,78.7 262.30,83.8 262.42,79.3 262.54,82.2 262.66,82.0 262.78,82.5 262.90,81.0 263.02,75.7 263.14,78.5 263.26,78.2 263.38,75.3 263.50,78.1 263.62,76.1 263.74,75.1 263.86,79.8 263.98,79.1 264.10,77.5 264.22,76.9 264.34,77.9 264.46,78.3 264.58,78.2 264.70,79.1 264.82,78.2 264.94,80.2 265.06,80.6 265.18,80.2 265.30,77.6 265.42,77.8 265.54,80.4 265.66,78.8 265.78,79.2 265.90,73.1 266.02,72.6 266.14,80.2 266.26,80.2 266.38,82.8 266.50,81.2 266.62,79.9 266.74,79.4 266.86,75.8 266.98,81.6 267.10,77.9 267.22,80.7 267.34,79.9 267.46,80.1 267.58,81.6 267.70,78.2 267.82,78.5 267.94,77.3 268.06,78.5 268.18,83.6 268.30,78.5 268.42,82.4 268.54,81.5 268.66,81.3 268.78,81.5 268.90,76.9 269.02,80.4 269.14,83.5 269.26,77.8 269.38,79.4 269.50,77.8 269.62,80.3 269.74,76.8 269.86,83.5 269.98,78.6 270.10,75.7 270.22,84.0 270.34,82.0 270.46,80.9 270.58,80.9 270.70,78.7 270.82,79.0 270.94,86.6 271.06,81.9 271.18,81.9 271.30,80.1 271.42,78.4 271.54,79.1 271.66,82.4 271.78,83.2 271.90,78.8 272.03,78.4 272.15,82.8 272.27,81.5 272.39,81.4 272.51,76.4 272.63,78.7 272.75,78.4 272.87,80.2 272.99,75.5 273.11,82.9 273.23,80.4 273.35,80.8 273.47,76.7 273.59,79.6 273.71,83.0 273.83,75.8 273.95,80.5 274.07,81.5 274.19,78.0 274.31,81.8 274.43,78.9 274.55,82.8 274.67,81.1 274.79,80.3 274.91,84.8 275.03,72.9 275.15,83.1 275.27,76.8 275.39,78.2 275.51,81.9 275.63,82.1 275.75,79.7 275.87,81.8 275.99,77.2 276.11,80.4 276.23,77.0 276.35,80.7 276.47,78.6 276.59,78.3 276.71,80.0 276.83,84.4 276.95,77.3 277.07,78.4 277.19,82.6 277.31,78.8 277.43,84.3 277.55,80.5 277.67,80.1 277.79,80.8 277.91,84.3 278.03,81.6 278.15,81.2 278.27,80.6 278.39,76.0 278.51,77.7 278.63,83.7 278.75,82.0 278.87,81.2 278.99,81.6 279.11,78.6 279.23,80.8 279.35,77.7 279.47,81.0 279.59,78.2 279.71,79.5 279.83,81.1 279.95,79.2 280.07,81.6 280.19,81.2 280.31,80.9 280.43,83.4 280.55,76.4 280.67,76.1 280.79,81.6 280.91,82.4 281.03,85.1 281.15,82.0 281.27,82.2 281.39,77.9 281.51,82.0 281.63,81.8 281.75,77.5 281.87,77.9 281.99,79.8 282.11,80.8 282.23,72.8 282.35,80.3 282.47,80.7 282.59,79.7 282.71,80.8 282.83,81.3 282.95,77.6 283.07,81.2 283.19,79.6 283.31,77.8 283.43,80.7 283.55,83.9 283.67,76.6 283.79,76.1 283.91,76.1 284.03,85.2 284.15,79.6 284.27,80.1 284.39,78.3 284.51,77.9 284.63,75.2 284.75,80.7 284.87,80.9 284.99,75.3 285.11,77.7 285.23,78.4 285.35,80.2 285.47,80.9 285.59,83.1 285.71,83.7 285.83,83.0 285.95,83.7 286.08,77.4 286.20,78.9 286.32,83.2 286.44,81.1 286.56,80.4 286.68,75.4 286.80,75.7 286.92,82.2 287.04,81.2 287.16,79.6 287.28,79.3 287.40,76.1 287.52,81.3 287.64,83.0 287.76,84.5 287.88,80.5 288.00,79.9 288.12,77.7 288.24,83.5 288.36,84.7 288.48,78.9 288.60,81.2 288.72,80.7 288.84,79.0 288.96,74.2 289.08,79.6 289.20,82.0 289.32,76.9 289.44,78.4 289.56,72.3 289.68,83.7 289.80,81.8 289.92,80.6 290.04,79.8 290.16,78.9 290.28,80.2 290.40,77.4 290.52,75.4 290.64,73.7 290.76,71.8 290.88,73.9 291.00,66.4 291.12,70.7 291.24,68.4 291.36,67.2 291.48,64.1 291.60,71.5 291.72,67.5 291.84,68.1 291.96,71.1 292.08,67.3 292.20,70.0 292.32,69.8 292.44,75.0 292.56,72.5 292.68,67.8 292.80,72.3 292.92,69.7 293.04,70.3 293.16,69.4 293.28,71.9 293.40,66.9 293.52,70.6 293.64,72.9 293.76,69.3 293.88,75.0 294.00,68.1 294.12,70.5 294.24,68.8 294.36,68.4 294.48,67.2 294.60,80.6 294.72,81.8 294.84,80.0 294.96,84.2 295.08,85.8 295.20,78.2 295.32,72.1 295.44,70.4 295.56,70.6 295.68,76.1 295.80,73.0 295.92,70.8 296.04,70.4 296.16,64.6 296.28,71.9 296.40,68.1 296.52,70.4 296.64,70.2 296.76,72.4 296.88,75.1 297.00,72.5 297.12,73.2 297.24,69.4 297.36,71.1 297.48,71.9 297.60,66.4 297.72,75.1 297.84,68.2 297.96,66.8 298.08,74.1 298.20,75.3 298.32,68.2 298.44,68.5 298.56,77.8 298.68,70.3 298.80,65.0 298.92,68.5 299.04,75.0 299.16,71.6 299.28,71.9 299.40,73.1 299.52,71.7 299.64,69.2 299.76,66.0 299.88,71.1 300.00,67.2 300.12,69.9 300.25,74.4 300.37,71.4 300.49,70.1 300.61,70.2 300.73,71.8 300.85,72.3 300.97,66.7 301.09,70.5 301.21,74.3 301.33,71.9 301.45,68.1 301.57,68.3 301.69,64.8 301.81,68.0 301.93,74.0 302.05,81.8 302.17,79.9 302.29,80.6 302.41,81.7 302.53,81.7 302.65,81.1 302.77,80.1 302.89,83.6 303.01,85.8 303.13,68.6 303.25,68.6 303.37,73.0 303.49,66.3 303.61,68.5 303.73,69.1 303.85,70.4 303.97,69.3 304.09,67.8 304.21,70.8 304.33,67.0 304.45,65.6 304.57,64.9 304.69,71.9 304.81,65.7 304.93,71.1 305.05,71.7 305.17,72.0 305.29,69.6 305.41,68.6 305.53,70.2 305.65,68.5 305.77,66.8 305.89,73.1 306.01,79.8 306.13,86.5 306.25,83.3 306.37,80.9 306.49,83.1 306.61,85.1 306.73,78.6 306.85,79.7 306.97,79.4 307.09,82.4 307.21,71.0 307.33,70.1 307.45,68.2 307.57,68.7 307.69,73.0 307.81,72.8 307.93,70.3 308.05,66.7 308.17,71.6 308.29,70.7 308.41,71.4 308.53,76.7 308.65,76.0 308.77,73.1 308.89,74.7 309.01,82.2 309.13,80.8 309.25,84.1 309.37,83.2 309.49,82.6 309.61,85.8 309.73,89.1 309.85,86.1 309.97,82.4 310.09,84.5 310.21,84.0 310.33,85.8 310.45,87.9 310.57,90.3 310.69,86.0 310.81,84.4 310.93,85.7 311.05,85.5 311.17,84.4 311.29,85.6 311.41,85.5 311.53,82.6 311.65,87.0 311.77,84.7 311.89,83.2 312.01,86.9 312.13,84.4 312.25,90.0 312.37,86.9 312.49,85.9 312.61,83.8 312.73,84.7 312.85,87.9 312.97,84.1 313.09,87.7 313.21,80.6 313.33,86.3 313.45,87.9 313.57,86.7 313.69,85.9 313.81,88.4 313.93,83.8 314.05,83.5 314.17,86.2 314.30,89.0 314.42,87.1 314.54,85.5 314.66,86.8 314.78,87.1 314.90,82.9 315.02,79.0 315.14,83.5 315.26,82.4 315.38,84.7 315.50,83.1 315.62,84.0 315.74,87.3 315.86,86.4 315.98,86.1 316.10,90.3 316.22,85.0 316.34,85.1 316.46,89.2 316.58,83.3 316.70,82.0 316.82,89.3 316.94,86.9 317.06,87.5 317.18,87.6 317.30,88.2 317.42,84.8 317.54,85.7 317.66,83.1 317.78,86.2 317.90,86.5 318.02,84.7 318.14,87.5 318.26,93.2 318.38,82.9 318.50,87.9 318.62,88.1 318.74,88.4 318.86,83.7 318.98,88.7 319.10,87.4 319.22,85.4 319.34,84.8 319.46,86.3 319.58,88.0 319.70,87.9 319.82,91.4 319.94,84.7 320.06,87.2 320.18,84.5 320.30,87.5 320.42,85.9 320.54,84.0 320.66,82.2 320.78,83.6 320.90,86.1 321.02,89.1 321.14,87.4 321.26,82.4 321.38,92.4 321.50,85.4 321.62,85.0 321.74,85.4 321.86,87.1 321.98,85.7 322.10,83.4 322.22,80.2 322.34,91.5 322.46,80.8 322.58,84.5 322.70,85.7 322.82,81.5 322.94,84.4 323.06,83.9 323.18,89.4 323.30,85.8 323.42,79.9 323.54,85.7 323.66,85.6 323.78,84.0 323.90,83.5 324.02,85.9 324.14,86.0 324.26,85.4 324.38,81.8 324.50,83.7 324.62,80.4 324.74,80.5 324.86,82.8 324.98,81.5 325.10,83.1 325.22,90.3 325.34,85.3 325.46,81.8 325.58,78.6 325.70,81.9 325.82,80.3 325.94,78.4 326.06,85.7 326.18,82.6 326.30,84.9 326.42,89.7 326.54,84.4 326.66,84.0 326.78,84.6 326.90,83.0 327.02,81.6 327.14,83.2 327.26,86.6 327.38,83.0 327.50,80.3 327.62,80.6 327.74,81.1 327.86,83.8 327.98,84.9 328.10,84.9 328.22,86.7 328.34,83.3 328.47,85.9 328.59,84.6 328.71,85.6 328.83,79.3 328.95,87.0 329.07,80.0 329.19,81.1 329.31,85.9 329.43,83.0 329.55,91.3 329.67,84.4 329.79,81.4 329.91,84.4 330.03,83.0 330.15,87.9 330.27,88.1 330.39,85.9 330.51,83.0 330.63,84.3 330.75,86.7 330.87,82.1 330.99,82.1 331.11,86.2 331.23,85.9 331.35,83.5 331.47,83.4 331.59,79.2 331.71,87.0 331.83,83.8 331.95,80.5 332.07,81.3 332.19,81.9 332.31,88.4 332.43,85.8 332.55,80.8 332.67,88.8 332.79,87.5 332.91,81.5 333.03,77.5 333.15,86.5 333.27,82.6 333.39,83.8 333.51,82.8 333.63,87.3 333.75,87.8 333.87,86.2 333.99,83.8 334.11,84.8 334.23,85.7 334.35,80.2 334.47,78.5 334.59,83.4 334.71,84.8 334.83,84.5 334.95,86.4 335.07,86.9 335.19,89.7 335.31,83.3 335.43,81.9 335.55,84.6 335.67,82.6 335.79,86.4 335.91,82.2 336.03,84.6 336.15,86.6 336.27,86.8 336.39,84.8 336.51,87.8 336.63,87.5 336.75,80.0 336.87,85.2 336.99,84.7 337.11,83.5 337.23,82.7 337.35,84.4 337.47,85.3 337.59,85.0 337.71,87.7 337.83,86.8 337.95,82.9 338.07,82.4 338.19,86.5 338.31,82.6 338.43,84.8 338.55,85.5 338.67,86.9 338.79,85.6 338.91,88.0 339.03,83.2 339.15,86.0 339.27,82.7 339.39,84.8 339.51,84.7 339.63,82.1 339.75,77.9 339.87,86.8 339.99,85.3 340.11,84.7 340.23,82.6 340.35,83.6 340.47,85.5 340.59,84.5 340.71,87.3 340.83,84.7 340.95,82.4 341.07,85.9 341.19,82.8 341.31,85.0 341.43,79.9 341.55,83.5 341.67,85.8 341.79,82.8 341.91,84.3 342.03,85.9 342.15,84.6 342.27,88.9 342.39,83.8 342.51,84.0 342.64,84.0 342.76,79.5 342.88,80.6 343.00,85.8 343.12,83.6 343.24,87.9 343.36,84.2 343.48,84.0 343.60,87.0 343.72,85.1 343.84,88.4 343.96,90.7 344.08,85.5 344.20,86.1 344.32,85.8 344.44,87.3 344.56,87.0 344.68,84.6 344.80,83.1 344.92,86.9 345.04,84.6 345.16,86.9 345.28,87.9 345.40,85.1 345.52,82.3 345.64,83.9 345.76,86.6 345.88,84.0 346.00,87.6 346.12,84.7 346.24,85.0 346.36,83.1 346.48,84.4 346.60,87.4 346.72,83.8 346.84,83.8 346.96,82.7 347.08,86.6 347.20,80.9 347.32,83.0 347.44,86.9 347.56,88.2 347.68,84.1 347.80,87.0 347.92,79.7 348.04,86.5 348.16,85.4 348.28,81.6 348.40,80.2 348.52,83.4 348.64,85.3 348.76,85.6 348.88,84.9 349.00,86.6 349.12,86.4 349.24,81.2 349.36,83.7 349.48,83.4 349.60,87.2" fill="none" stroke="#ff0000" stroke-width="0.75" stroke-linejoin="round"/>
<polyline points="236.60,106.5 236.72,108.3 236.84,97.9 236.96,103.7 237.08,106.4 237.20,107.2 237.32,105.6 237.44,107.6 237.56,104.7 237.68,105.3 237.80,104.4 237.92,101.4 238.04,102.0 238.16,104.9 238.28,97.9 238.40,107.1 238.52,107.1 238.64,108.3 238.76,103.9 238.88,107.3 239.00,113.0 239.12,102.0 239.24,104.2 239.36,104.7 239.48,100.2 239.60,99.8 239.72,104.9 239.84,101.9 239.96,106.9 240.08,104.9 240.20,104.7 240.32,104.5 240.44,106.1 240.56,103.6 240.68,106.6 240.80,102.7 240.92,103.5 241.04,102.4 241.16,105.4 241.28,104.1 241.40,101.9 241.52,108.8 241.64,103.1 241.76,103.7 241.88,104.9 242.00,108.2 242.12,103.6 242.24,105.7 242.36,104.2 242.48,100.5 242.60,105.9 242.72,106.4 242.84,103.4 242.96,104.0 243.08,100.4 243.20,100.3 243.32,103.1 243.44,105.5 243.56,102.9 243.69,96.5 243.81,106.3 243.93,104.2 244.05,105.4 244.17,107.5 244.29,101.0 244.41,105.8 244.53,99.5 244.65,105.0 244.77,104.5 244.89,102.7 245.01,101.4 245.13,103.9 245.25,103.0 245.37,104.2 245.49,101.8 245.61,105.3 245.73,101.5 245.85,103.3 245.97,103.1 246.09,107.0 246.21,100.4 246.33,103.0 246.45,106.8 246.57,102.4 246.69,101.0 246.81,104.7 246.93,103.3 247.05,106.0 247.17,101.8 247.29,104.5 247.41,105.6 247.53,106.5 247.65,101.3 247.77,107.4 247.89,101.8 248.01,100.4 248.13,101.7 248.25,104.4 248.37,103.2 248.49,105.1 248.61,105.2 248.73,104.8 248.85,103.4 248.97,108.4 249.09,98.7 249.21,99.8 249.33,102.8 249.45,101.0 249.57,97.9 249.69,102.1 249.81,102.2 249.93,98.1 250.05,106.1 250.17,107.1 250.29,107.0 250.41,102.8 250.53,104.4 250.65,101.3 250.77,104.5 250.89,102.4 251.01,105.0 251.13,103.2 251.25,106.5 251.37,106.0 251.49,107.0 251.61,100.1 251.73,99.6 251.85,97.3 251.97,102.6 252.09,105.0 252.21,104.7 252.33,104.4 252.45,106.2 252.57,105.3 252.69,105.1 252.81,101.9 252.93,108.1 253.05,104.3 253.17,106.7 253.29,104.8 253.41,107.0 253.53,104.4 253.65,104.5 253.77,104.3 253.89,102.3 254.01,102.6 254.13,103.6 254.25,103.7 254.37,101.6 254.49,109.7 254.61,101.6 254.73,103.3 254.85,109.9 254.97,102.4 255.09,105.8 255.21,105.6 255.33,103.5 255.45,100.6 255.57,100.3 255.69,104.0 255.81,105.0 255.93,98.8 256.05,104.4 256.17,102.4 256.29,106.1 256.41,104.4 256.53,102.1 256.65,103.0 256.77,104.1 256.89,110.0 257.01,111.3 257.13,104.9 257.25,104.3 257.37,105.7 257.49,104.1 257.61,105.7 257.73,105.1 257.86,104.2 257.98,102.3 258.10,104.6 258.22,106.4 258.34,104.4 258.46,107.9 258.58,106.5 258.70,103.9 258.82,108.4 258.94,101.5 259.06,107.1 259.18,108.7 259.30,103.6 259.42,104.0 259.54,106.5 259.66,107.7 259.78,105.3 259.90,104.9 260.02,106.5 260.14,104.9 260.26,101.4 260.38,103.8 260.50,104.3 260.62,100.7 260.74,105.2 260.86,102.5 260.98,106.1 261.10,100.7 261.22,102.1 261.34,100.8 261.46,107.4 261.58,107.3 261.70,107.8 261.82,107.8 261.94,106.5 262.06,106.4 262.18,100.2 262.30,105.1 262.42,103.1 262.54,103.5 262.66,101.3 262.78,107.4 262.90,104.7 263.02,100.7 263.14,105.5 263.26,104.1 263.38,101.7 263.50,103.5 263.62,102.3 263.74,98.6 263.86,100.5 263.98,105.3 264.10,104.9 264.22,104.7 264.34,101.2 264.46,102.6 264.58,104.2 264.70,105.7 264.82,102.0 264.94,101.5 265.06,106.7 265.18,104.2 265.30,103.1 265.42,102.2 265.54,102.4 265.66,107.8 265.78,106.3 265.90,103.0 266.02,101.0 266.14,108.0 266.26,107.8 266.38,106.9 266.50,106.0 266.62,99.5 266.74,100.9 266.86,105.4 266.98,103.3 267.10,104.6 267.22,102.7 267.34,102.4 267.46,105.3 267.58,103.0 267.70,104.0 267.82,104.6 267.94,104.6 268.06,106.8 268.18,107.3 268.30,100.7 268.42,103.4 268.54,102.4 268.66,105.8 268.78,101.4 268.90,105.9 269.02,105.7 269.14,105.4 269.26,101.7 269.38,103.5 269.50,101.4 269.62,104.9 269.74,106.3 269.86,100.3 269.98,102.0 270.10,103.6 270.22,102.7 270.34,107.6 270.46,103.6 270.58,104.6 270.70,101.3 270.82,107.7 270.94,104.4 271.06,105.9 271.18,104.2 271.30,98.9 271.42,100.2 271.54,100.9 271.66,105.1 271.78,102.8 271.90,105.0 272.03,104.7 272.15,104.6 272.27,106.2 272.39,104.4 272.51,100.1 272.63,102.4 272.75,108.0 272.87,101.4 272.99,107.3 273.11,108.0 273.23,102.6 273.35,104.8 273.47,100.6 273.59,105.9 273.71,102.1 273.83,100.9 273.95,103.1 274.07,102.9 274.19,102.6 274.31,104.5 274.43,103.6 274.55,102.4 274.67,106.3 274.79,109.8 274.91,104.2 275.03,102.3 275.15,101.6 275.27,105.4 275.39,103.4 275.51,104.0 275.63,99.2 275.75,101.3 275.87,101.2 275.99,106.3 276.11,103.4 276.23,98.0 276.35,105.2 276.47,106.7 276.59,107.1 276.71,97.3 276.83,104.4 276.95,105.9 277.07,105.5 277.19,103.4 277.31,99.7 277.43,103.0 277.55,103.2 277.67,105.4 277.79,105.5 277.91,103.4 278.03,106.0 278.15,101.5 278.27,102.4 278.39,103.9 278.51,105.4 278.63,103.2 278.75,107.0 278.87,105.0 278.99,101.7 279.11,104.2 279.23,101.9 279.35,101.7 279.47,100.6 279.59,107.4 279.71,106.2 279.83,100.2 279.95,106.7 280.07,106.3 280.19,103.1 280.31,105.2 280.43,109.4 280.55,104.7 280.67,105.0 280.79,106.7 280.91,101.5 281.03,101.0 281.15,100.6 281.27,103.8 281.39,106.1 281.51,101.9 281.63,100.7 281.75,104.5 281.87,103.2 281.99,105.5 282.11,103.8 282.23,103.6 282.35,103.9 282.47,104.2 282.59,101.8 282.71,101.4 282.83,107.9 282.95,111.5 283.07,106.8 283.19,100.2 283.31,104.2 283.43,107.0 283.55,100.2 283.67,103.0 283.79,103.1 283.91,101.9 284.03,102.1 284.15,106.6 284.27,103.0 284.39,103.6 284.51,108.3 284.63,102.1 284.75,99.5 284.87,105.7 284.99,109.0 285.11,104.6 285.23,104.9 285.35,101.0 285.47,101.9 285.59,107.7 285.71,107.2 285.83,105.5 285.95,102.6 286.08,101.3 286.20,101.6 286.32,101.3 286.44,105.6 286.56,102.2 286.68,102.9 286.80,105.7 286.92,105.7 287.04,104.2 287.16,105.2 287.28,104.0 287.40,99.4 287.52,103.8 287.64,103.0 287.76,103.2 287.88,104.6 288.00,102.6 288.12,106.9 288.24,103.6 288.36,104.4 288.48,104.8 288.60,103.6 288.72,105.6 288.84,105.8 288.96,105.5 289.08,102.3 289.20,101.8 289.32,102.5 289.44,104.0 289.56,99.5 289.68,101.9 289.80,101.2 289.92,102.3 290.04,101.7 290.16,105.9 290.28,105.0 290.40,106.2 290.52,101.6 290.64,102.1 290.76,103.2 290.88,107.9 291.00,108.0 291.12,102.5 291.24,105.5 291.36,109.1 291.48,101.5 291.60,103.5 291.72,107.1 291.84,105.7 291.96,101.6 292.08,107.6 292.20,106.3 292.32,105.6 292.44,101.0 292.56,103.6 292.68,107.2 292.80,105.2 292.92,105.9 293.04,103.3 293.16,107.6 293.28,103.4 293.40,106.2 293.52,104.8 293.64,101.7 293.76,107.6 293.88,101.0 294.00,102.2 294.12,104.3 294.24,100.6 294.36,99.7 294.48,103.7 294.60,103.0 294.72,103.3 294.84,105.2 294.96,109.4 295.08,109.5 295.20,109.9 295.32,104.6 295.44,103.7 295.56,97.5 295.68,100.3 295.80,104.6 295.92,105.3 296.04,101.9 296.16,104.7 296.28,106.1 296.40,102.6 296.52,100.0 296.64,101.6 296.76,103.2 296.88,104.6 297.00,105.8 297.12,101.7 297.24,104.0 297.36,103.3 297.48,104.0 297.60,106.6 297.72,107.0 297.84,102.8 297.96,102.4 298.08,102.2 298.20,102.6 298.32,102.9 298.44,103.5 298.56,102.7 298.68,101.3 298.80,101.1 298.92,104.1 299.04,109.8 299.16,105.3 299.28,105.5 299.40,104.8 299.52,103.5 299.64,108.7 299.76,103.2 299.88,101.6 300.00,101.0 300.12,104.4 300.25,101.5 300.37,101.8 300.49,101.8 300.61,100.8 300.73,104.3 300.85,99.9 300.97,109.4 301.09,97.3 301.21,100.6 301.33,104.1 301.45,104.9 301.57,103.1 301.69,104.6 301.81,104.4 301.93,104.3 302.05,105.4 302.17,104.6 302.29,103.7 302.41,103.6 302.53,106.1 302.65,103.6 302.77,105.4 302.89,107.8 303.01,104.9 303.13,106.9 303.25,103.0 303.37,104.7 303.49,105.2 303.61,104.6 303.73,105.2 303.85,107.4 303.97,103.3 304.09,102.4 304.21,104.8 304.33,100.5 304.45,111.7 304.57,106.9 304.69,104.0 304.81,105.3 304.93,104.9 305.05,106.9 305.17,105.2 305.29,104.5 305.41,96.0 305.53,102.7 305.65,105.7 305.77,103.6 305.89,102.2 306.01,106.1 306.13,101.8 306.25,103.1 306.37,105.6 306.49,102.7 306.61,104.3 306.73,103.9 306.85,101.0 306.97,102.6 307.09,103.0 307.21,102.3 307.33,106.5 307.45,103.8 307.57,102.3 307.69,100.5 307.81,103.1 307.93,107.0 308.05,103.1 308.17,105.7 308.29,104.9 308.41,102.6 308.53,101.6 308.65,105.1 308.77,99.8 308.89,105.2 309.01,101.0 309.13,105.9 309.25,102.9 309.37,103.6 309.49,106.4 309.61,101.5 309.73,104.0 309.85,103.1 309.97,105.1 310.09,105.6 310.21,104.6 310.33,104.4 310.45,102.9 310.57,105.3 310.69,103.3 310.81,104.2 310.93,104.3 311.05,100.6 311.17,101.2 311.29,104.4 311.41,103.9 311.53,106.9 311.65,98.1 311.77,104.4 311.89,106.5 312.01,104.1 312.13,105.8 312.25,104.0 312.37,103.8 312.49,106.1 312.61,100.8 312.73,98.6 312.85,105.1 312.97,104.2 313.09,104.2 313.21,104.6 313.33,105.4 313.45,102.8 313.57,105.1 313.69,104.7 313.81,101.2 313.93,103.6 314.05,104.6 314.17,102.1 314.30,106.4 314.42,103.2 314.54,105.9 314.66,107.4 314.78,100.4 314.90,100.8 315.02,105.4 315.14,103.5 315.26,105.2 315.38,108.1 315.50,102.8 315.62,106.0 315.74,103.4 315.86,102.4 315.98,105.1 316.10,104.6 316.22,106.6 316.34,104.7 316.46,106.1 316.58,105.2 316.70,99.9 316.82,103.1 316.94,103.2 317.06,106.1 317.18,101.5 317.30,104.4 317.42,103.0 317.54,99.7 317.66,103.6 317.78,105.5 317.90,103.1 318.02,106.2 318.14,104.9 318.26,104.8 318.38,102.8 318.50,103.6 318.62,105.1 318.74,104.1 318.86,101.1 318.98,103.6 319.10,105.0 319.22,106.7 319.34,106.0 319.46,101.7 319.58,105.7 319.70,100.2 319.82,102.5 319.94,102.1 320.06,107.6 320.18,105.6 320.30,104.7 320.42,102.5 320.54,107.0 320.66,103.4 320.78,105.1 320.90,106.7 321.02,103.3 321.14,105.3 321.26,99.3 321.38,105.4 321.50,100.0 321.62,105.0 321.74,104.7 321.86,105.2 321.98,109.6 322.10,98.1 322.22,105.1 322.34,103.1 322.46,105.8 322.58,104.8 322.70,104.3 322.82,102.8 322.94,102.3 323.06,104.9 323.18,100.4 323.30,106.6 323.42,102.7 323.54,105.2 323.66,101.2 323.78,105.2 323.90,103.5 324.02,105.9 324.14,107.0 324.26,102.8 324.38,104.3 324.50,104.6 324.62,107.6 324.74,101.0 324.86,105.5 324.98,104.0 325.10,101.2 325.22,103.3 325.34,102.5 325.46,106.7 325.58,101.8 325.70,106.5 325.82,103.0 325.94,105.7 326.06,100.0 326.18,102.3 326.30,104.5 326.42,101.9 326.54,100.4 326.66,104.1 326.78,106.0 326.90,104.1 327.02,103.6 327.14,105.1 327.26,103.1 327.38,110.2 327.50,106.7 327.62,101.0 327.74,106.6 327.86,105.7 327.98,104.8 328.10,105.8 328.22,107.5 328.34,108.7 328.47,108.0 328.59,103.5 328.71,107.3 328.83,100.1 328.95,106.3 329.07,105.8 329.19,106.5 329.31,102.0 329.43,107.6 329.55,107.2 329.67,104.6 329.79,100.7 329.91,104.9 330.03,102.1 330.15,100.4 330.27,102.4 330.39,109.8 330.51,100.6 330.63,103.3 330.75,104.5 330.87,106.3 330.99,101.7 331.11,101.7 331.23,106.2 331.35,104.7 331.47,107.0 331.59,101.2 331.71,103.8 331.83,106.2 331.95,104.3 332.07,101.3 332.19,104.3 332.31,99.5 332.43,102.1 332.55,105.8 332.67,106.1 332.79,104.9 332.91,105.6 333.03,100.4 333.15,102.4 333.27,106.5 333.39,109.5 333.51,105.0 333.63,101.8 333.75,101.7 333.87,106.8 333.99,106.6 334.11,101.1 334.23,104.3 334.35,107.3 334.47,107.3 334.59,102.7 334.71,103.5 334.83,105.1 334.95,101.4 335.07,100.1 335.19,102.3 335.31,106.9 335.43,106.6 335.55,105.1 335.67,101.2 335.79,99.3 335.91,101.4 336.03,104.0 336.15,106.4 336.27,101.8 336.39,104.1 336.51,99.6 336.63,98.8 336.75,103.8 336.87,101.0 336.99,101.3 337.11,98.4 337.23,105.7 337.35,99.5 337.47,103.8 337.59,100.1 337.71,102.8 337.83,106.9 337.95,104.3 338.07,104.0 338.19,105.8 338.31,105.0 338.43,107.0 338.55,100.2 338.67,107.0 338.79,103.9 338.91,101.2 339.03,105.2 339.15,105.0 339.27,103.7 339.39,105.8 339.51,100.6 339.63,99.8 339.75,102.3 339.87,106.4 339.99,105.0 340.11,103.8 340.23,102.3 340.35,103.8 340.47,106.6 340.59,102.5 340.71,102.4 340.83,104.9 340.95,105.4 341.07,104.2 341.19,107.3 341.31,104.3 341.43,101.5 341.55,98.6 341.67,106.7 341.79,103.5 341.91,104.7 342.03,105.0 342.15,107.2 342.27,106.5 342.39,106.3 342.51,104.7 342.64,103.5 342.76,104.7 342.88,102.1 343.00,104.9 343.12,106.6 343.24,105.8 343.36,104.4 343.48,102.0 343.60,101.9 343.72,102.3 343.84,103.1 343.96,105.1 344.08,105.2 344.20,105.4 344.32,106.5 344.44,101.7 344.56,103.5 344.68,105.3 344.80,105.9 344.92,102.4 345.04,102.4 345.16,106.8 345.28,105.7 345.40,105.1 345.52,103.4 345.64,101.8 345.76,104.0 345.88,104.8 346.00,105.2 346.12,106.1 346.24,104.3 346.36,107.0 346.48,103.2 346.60,104.8 346.72,104.2 346.84,99.8 346.96,100.9 347.08,102.8 347.20,104.4 347.32,104.8 347.44,107.1 347.56,104.0 347.68,103.2 347.80,104.8 347.92,101.1 348.04,103.5 348.16,101.6 348.28,104.1 348.40,102.3 348.52,103.0 348.64,108.5 348.76,106.6 348.88,109.9 349.00,104.4 349.12,103.5 349.24,102.1 349.36,103.9 349.48,99.8 349.60,104.2" fill="none" stroke="#0000ff" stroke-width="0.75" stroke-linejoin="round"/>
<rect x="236" y="18.2" width="114.2" height="133.7" fill="none" stroke="#707070" stroke-width="1.15"/>
<line x1="236" y1="151.9" x2="236" y2="153.9" stroke="#707070" stroke-width="0.9"/>
<line x1="236" y1="18.2" x2="236" y2="20.2" stroke="#707070" stroke-width="0.9"/>
<line x1="247.42" y1="151.9" x2="247.42" y2="153.2" stroke="#707070" stroke-width="0.9"/>
<line x1="247.42" y1="18.2" x2="247.42" y2="19.5" stroke="#707070" stroke-width="0.9"/>
<line x1="258.84" y1="151.9" x2="258.84" y2="153.9" stroke="#707070" stroke-width="0.9"/>
<line x1="258.84" y1="18.2" x2="258.84" y2="20.2" stroke="#707070" stroke-width="0.9"/>
<line x1="270.26" y1="151.9" x2="270.26" y2="153.2" stroke="#707070" stroke-width="0.9"/>
<line x1="270.26" y1="18.2" x2="270.26" y2="19.5" stroke="#707070" stroke-width="0.9"/>
<line x1="281.68" y1="151.9" x2="281.68" y2="153.9" stroke="#707070" stroke-width="0.9"/>
<line x1="281.68" y1="18.2" x2="281.68" y2="20.2" stroke="#707070" stroke-width="0.9"/>
<line x1="293.1" y1="151.9" x2="293.1" y2="153.2" stroke="#707070" stroke-width="0.9"/>
<line x1="293.1" y1="18.2" x2="293.1" y2="19.5" stroke="#707070" stroke-width="0.9"/>
<line x1="304.52" y1="151.9" x2="304.52" y2="153.9" stroke="#707070" stroke-width="0.9"/>
<line x1="304.52" y1="18.2" x2="304.52" y2="20.2" stroke="#707070" stroke-width="0.9"/>
<line x1="315.94" y1="151.9" x2="315.94" y2="153.2" stroke="#707070" stroke-width="0.9"/>
<line x1="315.94" y1="18.2" x2="315.94" y2="19.5" stroke="#707070" stroke-width="0.9"/>
<line x1="327.36" y1="151.9" x2="327.36" y2="153.9" stroke="#707070" stroke-width="0.9"/>
<line x1="327.36" y1="18.2" x2="327.36" y2="20.2" stroke="#707070" stroke-width="0.9"/>
<line x1="338.78" y1="151.9" x2="338.78" y2="153.2" stroke="#707070" stroke-width="0.9"/>
<line x1="338.78" y1="18.2" x2="338.78" y2="19.5" stroke="#707070" stroke-width="0.9"/>
<line x1="350.2" y1="151.9" x2="350.2" y2="153.9" stroke="#707070" stroke-width="0.9"/>
<line x1="350.2" y1="18.2" x2="350.2" y2="20.2" stroke="#707070" stroke-width="0.9"/>
<text x="236.3" y="163.7" text-anchor="middle" class="tk" textLength="5.45" lengthAdjust="spacingAndGlyphs">0</text>
<text x="259.14" y="163.7" text-anchor="middle" class="tk" textLength="5.45" lengthAdjust="spacingAndGlyphs">2</text>
<text x="281.98" y="163.7" text-anchor="middle" class="tk" textLength="5.45" lengthAdjust="spacingAndGlyphs">4</text>
<text x="304.82" y="163.7" text-anchor="middle" class="tk" textLength="5.45" lengthAdjust="spacingAndGlyphs">6</text>
<text x="327.66" y="163.7" text-anchor="middle" class="tk" textLength="5.45" lengthAdjust="spacingAndGlyphs">8</text>
<text x="350.5" y="163.7" text-anchor="middle" class="tk" textLength="10.9" lengthAdjust="spacingAndGlyphs">10</text>
<line x1="234.2" y1="18.2" x2="236" y2="18.2" stroke="#707070" stroke-width="1"/>
<text x="232" y="22.1" text-anchor="end" class="tk" textLength="5.45" lengthAdjust="spacingAndGlyphs">0</text>
<line x1="234.2" y1="44" x2="236" y2="44" stroke="#707070" stroke-width="1"/>
<text x="232" y="47.9" text-anchor="end" class="tk" textLength="14.16" lengthAdjust="spacingAndGlyphs">-50</text>
<line x1="234.2" y1="72.6" x2="236" y2="72.6" stroke="#707070" stroke-width="1"/>
<text x="232" y="76.5" text-anchor="end" class="tk" textLength="19.61" lengthAdjust="spacingAndGlyphs">-250</text>
<line x1="234.2" y1="98.5" x2="236" y2="98.5" stroke="#707070" stroke-width="1"/>
<text x="232" y="102.4" text-anchor="end" class="tk" textLength="19.61" lengthAdjust="spacingAndGlyphs">-300</text>
<line x1="234.2" y1="124.8" x2="236" y2="124.8" stroke="#707070" stroke-width="1"/>
<text x="232" y="128.7" text-anchor="end" class="tk" textLength="19.61" lengthAdjust="spacingAndGlyphs">-350</text>
<line x1="234.2" y1="150.9" x2="236" y2="150.9" stroke="#707070" stroke-width="1"/>
<text x="232" y="154.8" text-anchor="end" class="tk" textLength="19.61" lengthAdjust="spacingAndGlyphs">-400</text>
<rect x="233" y="45.3" width="6" height="2.4" fill="#fff"/>
<line x1="233.4" y1="46.3" x2="238.6" y2="44.1" stroke="#707070" stroke-width="0.9"/>
<line x1="233.4" y1="48.9" x2="238.6" y2="46.7" stroke="#707070" stroke-width="0.9"/>
<text x="240.9" y="176.6" class="xt">Simulation Time (ns)</text>
<text transform="translate(196,152.6) rotate(-90)" class="yl" textLength="117.9" lengthAdjust="spacingAndGlyphs">Energy between MIDAS</text>
<text transform="translate(209.3,144.9) rotate(-90)" class="yl" textLength="105.1" lengthAdjust="spacingAndGlyphs">and ligand (kcal/mol)</text>
<text x="182.8" y="182.2" class="pl">D</text>
<polyline points="236.30,238.1 236.42,235.6 236.54,238.6 236.66,236.0 236.78,240.2 236.90,238.4 237.02,238.2 237.14,236.6 237.26,237.7 237.38,233.4 237.50,235.4 237.62,238.8 237.74,233.1 237.86,239.9 237.98,234.0 238.10,239.7 238.22,236.1 238.34,239.8 238.46,238.3 238.58,234.5 238.70,240.9 238.82,241.3 238.94,237.8 239.06,237.4 239.18,237.6 239.30,235.8 239.42,240.5 239.54,236.8 239.66,237.9 239.78,236.2 239.90,237.7 240.02,237.8 240.14,245.2 240.26,243.6 240.38,247.7 240.50,247.1 240.62,247.1 240.74,249.5 240.86,250.6 240.98,253.5 241.10,252.6 241.22,252.8 241.34,250.3 241.46,251.7 241.58,257.3 241.70,252.0 241.82,251.1 241.94,254.3 242.06,256.8 242.18,250.2 242.30,253.1 242.42,252.1 242.54,249.5 242.66,255.2 242.78,253.5 242.90,253.7 243.02,251.8 243.14,254.6 243.26,252.3 243.38,253.2 243.50,251.0 243.62,250.8 243.75,256.6 243.87,252.4 243.99,254.3 244.11,253.5 244.23,252.6 244.35,252.4 244.47,255.0 244.59,252.9 244.71,253.3 244.83,253.7 244.95,256.3 245.07,255.2 245.19,254.5 245.31,252.3 245.43,250.4 245.55,255.8 245.67,255.8 245.79,253.3 245.91,254.9 246.03,255.4 246.15,255.5 246.27,255.8 246.39,252.6 246.51,257.1 246.63,250.8 246.75,255.6 246.87,254.8 246.99,255.7 247.11,258.0 247.23,257.1 247.35,251.0 247.47,249.8 247.59,255.6 247.71,251.3 247.83,246.1 247.95,255.6 248.07,249.9 248.19,248.8 248.31,254.3 248.43,253.8 248.55,253.1 248.67,253.8 248.79,251.7 248.91,250.2 249.03,253.3 249.15,251.5 249.27,249.9 249.39,254.9 249.51,253.6 249.63,254.7 249.75,251.5 249.87,252.2 249.99,251.4 250.11,251.7 250.23,254.2 250.35,251.9 250.47,254.6 250.59,254.5 250.71,258.4 250.83,250.6 250.95,255.8 251.07,253.6 251.19,258.9 251.31,250.4 251.43,252.7 251.55,255.5 251.67,253.6 251.79,254.0 251.91,253.1 252.03,256.4 252.15,253.7 252.27,248.7 252.39,252.2 252.51,249.3 252.63,246.3 252.75,252.6 252.87,256.9 252.99,253.9 253.11,251.1 253.23,251.7 253.35,256.4 253.47,254.2 253.59,253.9 253.71,253.7 253.83,253.9 253.95,255.7 254.07,255.1 254.19,254.3 254.31,251.5 254.43,255.0 254.55,252.3 254.67,256.4 254.79,250.9 254.91,253.6 255.03,253.9 255.15,250.8 255.27,257.8 255.39,257.2 255.51,252.8 255.63,255.7 255.75,254.8 255.87,247.9 255.99,254.5 256.11,253.8 256.23,254.1 256.35,251.4 256.47,253.3 256.59,253.5 256.71,256.7 256.83,254.7 256.95,253.9 257.07,257.4 257.19,252.7 257.31,253.0 257.43,249.8 257.55,257.6 257.67,256.2 257.79,256.1 257.91,255.5 258.03,254.2 258.15,254.5 258.27,253.4 258.40,253.5 258.52,254.1 258.64,257.4 258.76,255.3 258.88,253.8 259.00,252.6 259.12,252.5 259.24,257.7 259.36,255.2 259.48,254.1 259.60,253.2 259.72,251.4 259.84,253.9 259.96,256.0 260.08,253.1 260.20,253.5 260.32,253.5 260.44,254.3 260.56,250.4 260.68,253.5 260.80,252.1 260.92,256.1 261.04,252.3 261.16,255.4 261.28,257.6 261.40,253.4 261.52,252.7 261.64,254.6 261.76,254.1 261.88,251.8 262.00,255.2 262.12,258.8 262.24,253.6 262.36,253.7 262.48,251.8 262.60,254.9 262.72,251.3 262.84,251.6 262.96,257.1 263.08,252.1 263.20,256.7 263.32,257.7 263.44,254.8 263.56,255.5 263.68,258.7 263.80,253.8 263.92,252.9 264.04,251.2 264.16,254.4 264.28,257.7 264.40,256.5 264.52,252.1 264.64,252.3 264.76,253.2 264.88,255.0 265.00,253.9 265.12,254.8 265.24,255.0 265.36,253.7 265.48,254.3 265.60,254.8 265.72,254.2 265.84,255.5 265.96,258.7 266.08,255.8 266.20,254.5 266.32,250.5 266.44,255.3 266.56,250.0 266.68,251.2 266.80,256.4 266.92,256.1 267.04,254.1 267.16,250.5 267.28,253.6 267.40,252.9 267.52,256.0 267.64,259.7 267.76,255.0 267.88,252.7 268.00,251.8 268.12,254.4 268.24,254.1 268.36,251.9 268.48,254.8 268.60,251.9 268.72,257.1 268.84,257.0 268.96,257.1 269.08,253.5 269.20,255.8 269.32,254.3 269.44,253.7 269.56,253.8 269.68,251.6 269.80,251.3 269.92,256.5 270.04,254.2 270.16,255.2 270.28,257.0 270.40,250.7 270.52,252.9 270.64,255.1 270.76,255.6 270.88,253.8 271.00,257.1 271.12,255.2 271.24,251.9 271.36,252.6 271.48,256.6 271.60,255.8 271.72,250.4 271.84,257.9 271.96,256.1 272.08,257.9 272.20,253.9 272.32,254.1 272.44,252.2 272.56,260.6 272.68,254.4 272.80,258.5 272.93,253.3 273.05,255.2 273.17,251.0 273.29,254.0 273.41,257.1 273.53,252.0 273.65,257.3 273.77,255.7 273.89,252.5 274.01,253.7 274.13,253.9 274.25,254.8 274.37,253.7 274.49,253.0 274.61,254.2 274.73,252.6 274.85,252.0 274.97,254.9 275.09,257.0 275.21,251.5 275.33,255.0 275.45,253.5 275.57,252.8 275.69,257.0 275.81,253.8 275.93,258.5 276.05,253.2 276.17,255.9 276.29,254.5 276.41,253.3 276.53,256.4 276.65,254.7 276.77,256.5 276.89,255.0 277.01,252.6 277.13,254.9 277.25,255.2 277.37,257.3 277.49,253.0 277.61,255.0 277.73,251.2 277.85,256.6 277.97,252.7 278.09,251.0 278.21,255.0 278.33,257.7 278.45,251.7 278.57,252.7 278.69,253.5 278.81,252.6 278.93,256.1 279.05,253.4 279.17,253.6 279.29,256.6 279.41,253.5 279.53,256.2 279.65,253.0 279.77,252.5 279.89,251.1 280.01,259.6 280.13,254.6 280.25,255.9 280.37,255.2 280.49,255.7 280.61,255.4 280.73,259.7 280.85,252.9 280.97,251.8 281.09,253.0 281.21,252.3 281.33,257.1 281.45,257.3 281.57,253.2 281.69,252.2 281.81,254.6 281.93,258.6 282.05,248.9 282.17,256.6 282.29,253.0 282.41,257.8 282.53,253.0 282.65,254.8 282.77,252.0 282.89,253.2 283.01,258.7 283.13,257.4 283.25,254.6 283.37,253.5 283.49,251.1 283.61,254.6 283.73,255.4 283.85,255.3 283.97,255.3 284.09,253.0 284.21,255.4 284.33,255.5 284.45,258.5 284.57,259.9 284.69,255.3 284.81,253.8 284.93,255.4 285.05,254.2 285.17,253.9 285.29,255.5 285.41,262.0 285.53,257.0 285.65,255.4 285.77,256.2 285.89,255.2 286.01,254.0 286.13,253.5 286.25,255.1 286.37,254.4 286.49,256.2 286.61,255.7 286.73,252.6 286.85,255.9 286.97,252.6 287.09,254.3 287.21,255.1 287.33,251.0 287.45,256.0 287.57,256.1 287.70,255.4 287.82,254.8 287.94,254.9 288.06,253.5 288.18,255.2 288.30,254.5 288.42,256.0 288.54,253.1 288.66,256.4 288.78,256.2 288.90,255.5 289.02,254.8 289.14,257.1 289.26,252.0 289.38,256.9 289.50,256.4 289.62,256.5 289.74,256.8 289.86,254.4 289.98,255.3 290.10,257.4 290.22,256.9 290.34,256.4 290.46,252.5 290.58,257.2 290.70,258.6 290.82,258.3 290.94,256.5 291.06,252.4 291.18,258.2 291.30,255.7 291.42,250.2 291.54,256.9 291.66,252.6 291.78,253.0 291.90,254.5 292.02,258.9 292.14,255.1 292.26,256.6 292.38,260.0 292.50,259.7 292.62,254.1 292.74,250.5 292.86,244.8 292.98,242.9 293.10,242.2 293.22,244.9 293.34,240.3 293.46,242.3 293.58,238.2 293.70,239.9 293.82,241.7 293.94,257.3 294.06,248.5 294.18,256.9 294.30,255.3 294.42,256.8 294.54,253.7 294.66,252.2 294.78,257.3 294.90,239.9 295.02,240.7 295.14,236.1 295.26,239.2 295.38,238.6 295.50,238.0 295.62,234.8 295.74,239.2 295.86,242.1 295.98,240.9 296.10,238.6 296.22,240.0 296.34,241.7 296.46,233.7 296.58,239.7 296.70,241.2 296.82,241.6 296.94,243.9 297.06,242.6 297.18,240.7 297.30,240.7 297.42,241.8 297.54,238.8 297.66,239.9 297.78,242.1 297.90,260.5 298.02,255.6 298.14,255.9 298.26,256.5 298.38,259.1 298.50,255.9 298.62,259.4 298.74,253.8 298.86,255.6 298.98,255.5 299.10,241.8 299.22,242.4 299.34,236.5 299.46,237.9 299.58,240.8 299.70,254.5 299.82,252.5 299.94,258.4 300.06,257.1 300.18,257.1 300.30,254.9 300.42,258.4 300.54,255.4 300.66,258.5 300.78,237.9 300.90,238.0 301.02,240.5 301.14,238.4 301.26,241.6 301.38,240.6 301.50,237.9 301.62,240.2 301.74,239.2 301.86,242.1 301.98,238.5 302.10,239.0 302.23,242.8 302.35,245.1 302.47,244.6 302.59,240.1 302.71,240.5 302.83,243.5 302.95,239.7 303.07,237.8 303.19,240.3 303.31,241.0 303.43,238.1 303.55,236.2 303.67,236.7 303.79,241.5 303.91,238.3 304.03,239.7 304.15,240.5 304.27,241.4 304.39,239.2 304.51,241.1 304.63,238.0 304.75,239.2 304.87,237.6 304.99,242.6 305.11,239.9 305.23,238.3 305.35,239.2 305.47,239.5 305.59,241.6 305.71,236.3 305.83,237.6 305.95,239.1 306.07,245.8 306.19,242.2 306.31,239.7 306.43,241.6 306.55,244.7 306.67,239.5 306.79,239.2 306.91,242.8 307.03,241.1 307.15,241.5 307.27,238.8 307.39,244.4 307.51,243.9 307.63,241.3 307.75,241.6 307.87,235.3 307.99,241.5 308.11,239.6 308.23,241.0 308.35,241.6 308.47,239.2 308.59,236.1 308.71,240.8 308.83,238.3 308.95,239.2 309.07,238.6 309.19,239.2 309.31,234.7 309.43,242.8 309.55,240.6 309.67,242.6 309.79,244.6 309.91,256.1 310.03,251.9 310.15,253.9 310.27,253.2 310.39,254.8 310.51,256.2 310.63,251.4 310.75,256.8 310.87,252.5 310.99,256.7 311.11,254.3 311.23,255.6 311.35,257.3 311.47,256.2 311.59,256.1 311.71,253.6 311.83,257.4 311.95,261.7 312.07,262.0 312.19,260.5 312.31,259.1 312.43,255.9 312.55,260.7 312.67,257.3 312.79,257.2 312.91,256.7 313.03,257.6 313.15,256.4 313.27,257.2 313.39,254.9 313.51,256.5 313.63,262.6 313.75,257.2 313.87,256.8 313.99,258.5 314.11,264.6 314.23,254.7 314.35,256.8 314.47,259.4 314.59,257.9 314.71,257.5 314.83,260.8 314.95,255.7 315.07,257.4 315.19,256.0 315.31,260.6 315.43,252.7 315.55,255.7 315.67,256.0 315.79,258.7 315.91,258.6 316.03,260.4 316.15,253.5 316.27,258.9 316.39,256.5 316.51,255.6 316.63,258.4 316.75,255.0 316.88,252.3 317.00,256.2 317.12,253.6 317.24,255.6 317.36,257.9 317.48,257.8 317.60,260.7 317.72,256.6 317.84,253.5 317.96,255.3 318.08,254.9 318.20,252.1 318.32,258.0 318.44,255.5 318.56,252.3 318.68,258.4 318.80,256.4 318.92,257.4 319.04,256.8 319.16,257.9 319.28,256.4 319.40,259.1 319.52,257.2 319.64,257.0 319.76,257.0 319.88,252.6 320.00,255.5 320.12,255.2 320.24,256.2 320.36,252.5 320.48,259.3 320.60,255.7 320.72,252.6 320.84,251.4 320.96,254.6 321.08,254.9 321.20,253.4 321.32,255.2 321.44,253.4 321.56,256.1 321.68,253.1 321.80,254.6 321.92,256.8 322.04,260.4 322.16,252.1 322.28,253.2 322.40,252.3 322.52,256.0 322.64,251.4 322.76,252.9 322.88,253.8 323.00,251.6 323.12,251.5 323.24,252.6 323.36,248.7 323.48,250.2 323.60,252.5 323.72,253.7 323.84,252.8 323.96,249.1 324.08,252.0 324.20,254.8 324.32,254.3 324.44,252.8 324.56,251.0 324.68,254.5 324.80,251.7 324.92,250.3 325.04,251.2 325.16,256.3 325.28,253.5 325.40,255.7 325.52,251.9 325.64,255.2 325.76,251.6 325.88,252.6 326.00,258.7 326.12,254.8 326.24,251.8 326.36,252.8 326.48,253.8 326.60,255.8 326.72,251.9 326.84,249.0 326.96,252.4 327.08,253.0 327.20,253.3 327.32,256.0 327.44,253.7 327.56,254.9 327.68,250.5 327.80,255.0 327.92,257.8 328.04,254.8 328.16,253.6 328.28,253.4 328.40,257.1 328.52,245.8 328.64,252.7 328.76,254.1 328.88,254.7 329.00,252.0 329.12,253.7 329.24,252.4 329.36,253.3 329.48,252.7 329.60,250.4 329.72,253.0 329.84,255.0 329.96,250.8 330.08,252.4 330.20,254.5 330.32,250.5 330.44,253.4 330.56,250.6 330.68,255.6 330.80,258.3 330.92,257.7 331.04,252.5 331.16,254.7 331.28,253.3 331.40,253.2 331.52,256.6 331.65,250.0 331.77,255.4 331.89,252.9 332.01,256.2 332.13,253.4 332.25,251.5 332.37,253.6 332.49,254.7 332.61,253.1 332.73,254.1 332.85,251.8 332.97,248.1 333.09,255.1 333.21,254.6 333.33,253.3 333.45,253.2 333.57,255.4 333.69,251.9 333.81,251.4 333.93,252.6 334.05,255.7 334.17,249.8 334.29,255.7 334.41,251.5 334.53,250.5 334.65,255.9 334.77,252.8 334.89,250.0 335.01,252.2 335.13,255.1 335.25,255.7 335.37,252.0 335.49,253.9 335.61,254.6 335.73,251.5 335.85,253.8 335.97,252.9 336.09,251.8 336.21,251.9 336.33,253.2 336.45,253.1 336.57,251.8 336.69,252.1 336.81,255.6 336.93,253.6 337.05,255.1 337.17,255.9 337.29,254.5 337.41,258.4 337.53,251.2 337.65,255.0 337.77,252.4 337.89,257.4 338.01,257.1 338.13,248.7 338.25,251.0 338.37,254.7 338.49,255.0 338.61,254.9 338.73,253.1 338.85,254.3 338.97,254.8 339.09,253.1 339.21,255.6 339.33,248.1 339.45,254.8 339.57,250.9 339.69,255.5 339.81,252.8 339.93,251.3 340.05,254.2 340.17,251.3 340.29,251.3 340.41,249.8 340.53,253.3 340.65,254.5 340.77,255.8 340.89,253.1 341.01,255.8 341.13,253.5 341.25,253.2 341.37,254.8 341.49,255.9 341.61,252.7 341.73,252.9 341.85,253.1 341.97,253.7 342.09,251.5 342.21,255.9 342.33,252.6 342.45,254.6 342.57,251.7 342.69,254.4 342.81,254.5 342.93,252.6 343.05,258.3 343.17,254.5 343.29,257.7 343.41,255.8 343.53,252.1 343.65,252.8 343.77,254.7 343.89,253.8 344.01,253.8 344.13,253.0 344.25,249.6 344.37,253.2 344.49,248.6 344.61,254.6 344.73,252.1 344.85,252.1 344.97,253.3 345.09,254.4 345.21,250.5 345.33,249.8 345.45,251.4 345.57,249.1 345.69,251.6 345.81,257.5 345.93,251.4 346.05,255.4 346.18,250.7 346.30,254.6 346.42,253.2 346.54,253.8 346.66,255.2 346.78,258.0 346.90,254.4 347.02,254.2 347.14,251.7 347.26,255.3 347.38,253.4 347.50,255.9 347.62,253.9 347.74,258.0 347.86,249.5 347.98,253.3 348.10,256.1 348.22,253.2 348.34,252.2 348.46,253.5 348.58,250.9 348.70,254.4 348.82,259.7 348.94,261.1 349.06,251.6 349.18,252.1 349.30,253.2 349.42,256.5 349.54,252.3 349.66,252.6 349.78,256.2 349.90,256.2 350.02,253.3 350.14,251.6 350.26,250.7 350.38,252.6 350.50,249.1 350.62,256.0 350.74,252.8 350.86,255.4 350.98,258.6 351.10,257.0 351.22,251.7 351.34,256.3 351.46,257.0 351.58,252.6 351.70,252.2 351.82,254.1 351.94,250.7 352.06,257.8 352.18,248.9 352.30,251.9 352.42,253.8 352.54,253.9 352.66,254.8 352.78,255.1 352.90,254.0 353.02,257.1 353.14,249.5 353.26,254.5 353.38,252.8 353.50,254.8" fill="none" stroke="#ff0000" stroke-width="0.75" stroke-linejoin="round"/>
<polyline points="236.30,282.7 236.42,283.4 236.54,283.3 236.66,284.9 236.78,281.8 236.90,285.2 237.02,284.0 237.14,286.9 237.26,287.0 237.38,287.7 237.50,286.7 237.62,285.4 237.74,286.9 237.86,287.9 237.98,284.5 238.10,286.5 238.22,285.4 238.34,287.8 238.46,284.2 238.58,285.0 238.70,286.1 238.82,285.9 238.94,282.9 239.06,286.1 239.18,285.3 239.30,285.1 239.42,285.3 239.54,285.9 239.66,282.6 239.78,288.0 239.90,284.1 240.02,281.9 240.14,285.4 240.26,287.8 240.38,284.7 240.50,288.0 240.62,288.0 240.74,284.1 240.86,281.6 240.98,283.5 241.10,287.4 241.22,284.2 241.34,283.1 241.46,283.4 241.58,285.5 241.70,285.5 241.82,286.9 241.94,287.1 242.06,284.0 242.18,285.2 242.30,283.7 242.42,285.6 242.54,283.7 242.66,283.6 242.78,288.9 242.90,285.6 243.02,286.5 243.14,289.6 243.26,286.8 243.38,285.3 243.50,285.6 243.62,284.3 243.75,287.3 243.87,285.0 243.99,288.3 244.11,284.9 244.23,284.9 244.35,284.8 244.47,286.5 244.59,285.8 244.71,287.7 244.83,284.6 244.95,286.0 245.07,288.6 245.19,285.1 245.31,286.4 245.43,288.0 245.55,286.4 245.67,284.5 245.79,282.2 245.91,289.3 246.03,286.2 246.15,287.5 246.27,284.7 246.39,288.4 246.51,286.3 246.63,285.6 246.75,284.1 246.87,286.1 246.99,284.7 247.11,285.1 247.23,282.9 247.35,284.7 247.47,285.8 247.59,283.5 247.71,285.6 247.83,286.6 247.95,285.0 248.07,284.5 248.19,284.5 248.31,287.0 248.43,283.0 248.55,285.0 248.67,284.8 248.79,285.7 248.91,285.4 249.03,283.7 249.15,288.8 249.27,285.8 249.39,283.4 249.51,284.1 249.63,285.7 249.75,286.5 249.87,283.4 249.99,286.6 250.11,283.3 250.23,284.2 250.35,286.9 250.47,288.2 250.59,285.4 250.71,285.0 250.83,287.5 250.95,283.8 251.07,285.9 251.19,285.9 251.31,287.1 251.43,286.0 251.55,285.1 251.67,286.5 251.79,283.7 251.91,286.8 252.03,284.4 252.15,284.0 252.27,284.9 252.39,285.6 252.51,286.6 252.63,285.2 252.75,286.7 252.87,287.1 252.99,285.3 253.11,283.9 253.23,287.0 253.35,285.9 253.47,282.1 253.59,283.9 253.71,285.7 253.83,283.3 253.95,284.4 254.07,282.8 254.19,286.1 254.31,285.9 254.43,285.8 254.55,287.8 254.67,284.9 254.79,285.0 254.91,288.7 255.03,283.4 255.15,286.7 255.27,283.4 255.39,285.9 255.51,288.9 255.63,285.9 255.75,284.3 255.87,289.3 255.99,284.6 256.11,285.2 256.23,286.0 256.35,283.4 256.47,287.3 256.59,288.1 256.71,286.7 256.83,286.0 256.95,285.3 257.07,286.9 257.19,280.5 257.31,285.3 257.43,285.9 257.55,282.3 257.67,286.2 257.79,285.3 257.91,285.4 258.03,285.7 258.15,286.4 258.27,286.2 258.40,283.8 258.52,285.3 258.64,285.2 258.76,285.6 258.88,284.6 259.00,287.1 259.12,287.6 259.24,287.9 259.36,288.5 259.48,287.9 259.60,284.8 259.72,284.5 259.84,284.9 259.96,286.4 260.08,285.3 260.20,287.1 260.32,288.1 260.44,284.8 260.56,287.1 260.68,284.9 260.80,283.5 260.92,283.5 261.04,285.0 261.16,282.5 261.28,286.3 261.40,287.9 261.52,283.6 261.64,285.0 261.76,288.0 261.88,286.1 262.00,285.8 262.12,285.1 262.24,287.1 262.36,286.0 262.48,283.8 262.60,281.6 262.72,281.2 262.84,286.6 262.96,285.1 263.08,287.8 263.20,286.3 263.32,283.5 263.44,286.0 263.56,287.4 263.68,284.1 263.80,284.7 263.92,288.3 264.04,282.7 264.16,283.8 264.28,292.9 264.40,285.8 264.52,283.7 264.64,283.2 264.76,286.2 264.88,287.4 265.00,286.8 265.12,286.2 265.24,287.9 265.36,286.0 265.48,284.2 265.60,288.8 265.72,283.5 265.84,285.3 265.96,285.4 266.08,287.8 266.20,284.3 266.32,285.1 266.44,282.7 266.56,286.0 266.68,286.2 266.80,286.5 266.92,284.0 267.04,285.9 267.16,284.1 267.28,284.7 267.40,285.4 267.52,287.6 267.64,284.8 267.76,285.8 267.88,284.1 268.00,284.6 268.12,284.4 268.24,285.2 268.36,286.7 268.48,283.7 268.60,286.6 268.72,284.0 268.84,286.0 268.96,284.6 269.08,285.0 269.20,284.9 269.32,287.2 269.44,285.9 269.56,287.2 269.68,284.9 269.80,285.1 269.92,288.0 270.04,282.8 270.16,284.1 270.28,285.2 270.40,288.4 270.52,284.5 270.64,286.7 270.76,288.0 270.88,285.1 271.00,285.2 271.12,288.1 271.24,284.6 271.36,283.8 271.48,286.8 271.60,284.6 271.72,287.5 271.84,286.3 271.96,282.7 272.08,285.9 272.20,285.5 272.32,284.4 272.44,287.2 272.56,282.6 272.68,283.5 272.80,284.7 272.93,286.7 273.05,283.0 273.17,284.4 273.29,284.3 273.41,283.0 273.53,284.8 273.65,283.6 273.77,284.7 273.89,285.9 274.01,284.0 274.13,284.0 274.25,283.8 274.37,284.1 274.49,282.9 274.61,283.5 274.73,285.6 274.85,284.0 274.97,290.7 275.09,284.1 275.21,286.2 275.33,283.0 275.45,285.0 275.57,284.6 275.69,285.3 275.81,287.6 275.93,285.2 276.05,283.5 276.17,285.6 276.29,283.9 276.41,285.3 276.53,288.0 276.65,287.0 276.77,287.2 276.89,286.3 277.01,285.4 277.13,283.0 277.25,284.7 277.37,284.6 277.49,286.6 277.61,287.1 277.73,286.3 277.85,284.2 277.97,288.5 278.09,287.8 278.21,285.2 278.33,285.8 278.45,286.5 278.57,285.7 278.69,285.3 278.81,286.3 278.93,285.5 279.05,285.8 279.17,282.9 279.29,282.9 279.41,288.3 279.53,283.1 279.65,286.3 279.77,286.0 279.89,285.9 280.01,284.4 280.13,287.1 280.25,286.1 280.37,285.0 280.49,283.2 280.61,285.1 280.73,284.5 280.85,283.5 280.97,286.1 281.09,286.4 281.21,286.8 281.33,285.7 281.45,285.1 281.57,287.3 281.69,286.8 281.81,289.2 281.93,286.4 282.05,284.0 282.17,287.1 282.29,289.3 282.41,286.0 282.53,285.3 282.65,284.6 282.77,288.6 282.89,285.3 283.01,285.2 283.13,286.0 283.25,283.3 283.37,285.1 283.49,283.5 283.61,285.3 283.73,286.4 283.85,287.1 283.97,284.9 284.09,286.9 284.21,285.0 284.33,282.9 284.45,286.5 284.57,285.3 284.69,285.8 284.81,281.4 284.93,285.9 285.05,292.8 285.17,286.0 285.29,287.3 285.41,285.0 285.53,289.1 285.65,286.8 285.77,286.5 285.89,281.6 286.01,282.5 286.13,288.0 286.25,286.3 286.37,287.1 286.49,285.0 286.61,285.5 286.73,286.6 286.85,284.4 286.97,287.8 287.09,283.9 287.21,286.0 287.33,285.2 287.45,286.3 287.57,287.7 287.70,283.9 287.82,286.4 287.94,285.9 288.06,287.1 288.18,285.7 288.30,284.9 288.42,286.5 288.54,287.9 288.66,287.0 288.78,286.0 288.90,286.4 289.02,283.3 289.14,284.9 289.26,285.3 289.38,284.9 289.50,284.6 289.62,285.7 289.74,286.4 289.86,288.8 289.98,284.6 290.10,284.3 290.22,287.3 290.34,286.0 290.46,284.3 290.58,288.2 290.70,285.4 290.82,285.2 290.94,284.8 291.06,284.3 291.18,285.9 291.30,284.2 291.42,289.7 291.54,286.3 291.66,285.3 291.78,284.5 291.90,286.1 292.02,287.3 292.14,286.1 292.26,283.9 292.38,285.3 292.50,283.0 292.62,288.0 292.74,286.8 292.86,286.0 292.98,286.1 293.10,284.8 293.22,285.4 293.34,287.2 293.46,285.6 293.58,286.6 293.70,286.0 293.82,286.0 293.94,286.2 294.06,287.3 294.18,285.2 294.30,286.8 294.42,284.4 294.54,284.8 294.66,284.5 294.78,287.1 294.90,285.2 295.02,287.7 295.14,284.1 295.26,286.3 295.38,283.8 295.50,287.5 295.62,284.6 295.74,286.4 295.86,284.6 295.98,284.5 296.10,286.1 296.22,283.0 296.34,283.8 296.46,288.1 296.58,284.4 296.70,287.0 296.82,284.3 296.94,283.1 297.06,285.0 297.18,287.1 297.30,285.7 297.42,285.2 297.54,287.1 297.66,284.5 297.78,286.8 297.90,286.2 298.02,284.0 298.14,287.2 298.26,287.5 298.38,285.3 298.50,285.9 298.62,285.2 298.74,283.9 298.86,286.9 298.98,284.1 299.10,286.5 299.22,284.8 299.34,284.0 299.46,286.6 299.58,286.0 299.70,288.6 299.82,285.5 299.94,285.9 300.06,285.8 300.18,285.3 300.30,287.8 300.42,288.1 300.54,286.7 300.66,284.0 300.78,286.4 300.90,285.8 301.02,284.9 301.14,283.2 301.26,287.1 301.38,287.6 301.50,286.2 301.62,286.4 301.74,288.5 301.86,288.8 301.98,286.0 302.10,281.1 302.23,286.8 302.35,285.9 302.47,286.8 302.59,284.8 302.71,284.1 302.83,286.5 302.95,285.2 303.07,285.8 303.19,286.3 303.31,285.8 303.43,283.4 303.55,286.6 303.67,284.9 303.79,285.3 303.91,286.3 304.03,283.3 304.15,285.2 304.27,282.7 304.39,284.7 304.51,286.2 304.63,285.4 304.75,285.1 304.87,286.5 304.99,284.9 305.11,283.0 305.23,287.3 305.35,285.9 305.47,286.8 305.59,284.9 305.71,284.8 305.83,284.3 305.95,282.4 306.07,284.7 306.19,284.5 306.31,288.0 306.43,282.4 306.55,285.5 306.67,285.2 306.79,285.3 306.91,285.2 307.03,285.8 307.15,286.8 307.27,282.8 307.39,286.7 307.51,284.9 307.63,283.8 307.75,282.4 307.87,282.5 307.99,285.2 308.11,283.6 308.23,283.6 308.35,284.6 308.47,285.4 308.59,284.6 308.71,283.5 308.83,284.3 308.95,285.1 309.07,283.7 309.19,286.8 309.31,287.4 309.43,287.4 309.55,284.9 309.67,284.8 309.79,283.9 309.91,287.6 310.03,284.6 310.15,288.9 310.27,282.1 310.39,285.8 310.51,286.2 310.63,285.4 310.75,286.3 310.87,288.6 310.99,285.4 311.11,286.7 311.23,284.7 311.35,283.4 311.47,283.7 311.59,286.8 311.71,285.9 311.83,283.1 311.95,285.9 312.07,286.4 312.19,286.2 312.31,287.3 312.43,283.1 312.55,284.0 312.67,283.8 312.79,285.7 312.91,287.6 313.03,284.8 313.15,286.0 313.27,286.9 313.39,284.8 313.51,286.8 313.63,285.3 313.75,288.3 313.87,287.7 313.99,284.8 314.11,284.7 314.23,288.5 314.35,284.1 314.47,287.4 314.59,284.9 314.71,283.7 314.83,288.3 314.95,286.2 315.07,283.9 315.19,285.2 315.31,284.4 315.43,284.0 315.55,285.4 315.67,287.3 315.79,283.3 315.91,286.3 316.03,283.2 316.15,285.4 316.27,283.2 316.39,283.4 316.51,284.4 316.63,287.1 316.75,286.8 316.88,285.3 317.00,285.0 317.12,285.7 317.24,290.0 317.36,286.0 317.48,285.3 317.60,284.7 317.72,285.0 317.84,286.5 317.96,286.4 318.08,281.7 318.20,288.8 318.32,286.2 318.44,285.3 318.56,289.8 318.68,283.0 318.80,283.5 318.92,287.3 319.04,285.5 319.16,286.9 319.28,287.5 319.40,288.4 319.52,286.6 319.64,284.5 319.76,282.8 319.88,285.7 320.00,282.7 320.12,285.6 320.24,284.2 320.36,286.1 320.48,286.6 320.60,285.4 320.72,283.3 320.84,285.7 320.96,284.3 321.08,286.0 321.20,284.8 321.32,289.2 321.44,284.6 321.56,282.4 321.68,284.0 321.80,285.6 321.92,289.9 322.04,287.7 322.16,284.5 322.28,285.5 322.40,283.6 322.52,283.1 322.64,287.0 322.76,286.1 322.88,284.3 323.00,284.3 323.12,286.2 323.24,286.6 323.36,284.2 323.48,282.7 323.60,286.9 323.72,284.3 323.84,282.5 323.96,285.2 324.08,285.8 324.20,287.0 324.32,284.8 324.44,285.9 324.56,283.4 324.68,286.2 324.80,283.0 324.92,286.5 325.04,285.8 325.16,283.0 325.28,284.5 325.40,288.2 325.52,283.8 325.64,282.8 325.76,285.0 325.88,285.7 326.00,286.8 326.12,285.2 326.24,284.7 326.36,285.1 326.48,286.7 326.60,285.2 326.72,286.4 326.84,282.6 326.96,284.9 327.08,285.3 327.20,287.1 327.32,286.2 327.44,285.8 327.56,287.2 327.68,285.8 327.80,290.6 327.92,284.0 328.04,285.7 328.16,288.5 328.28,286.8 328.40,286.0 328.52,287.1 328.64,284.8 328.76,285.7 328.88,285.8 329.00,288.6 329.12,286.0 329.24,288.9 329.36,285.5 329.48,285.9 329.60,282.8 329.72,286.5 329.84,282.3 329.96,286.6 330.08,287.1 330.20,286.2 330.32,283.8 330.44,285.1 330.56,281.2 330.68,284.3 330.80,285.9 330.92,285.5 331.04,284.9 331.16,287.6 331.28,286.1 331.40,285.5 331.52,285.8 331.65,283.8 331.77,285.2 331.89,282.3 332.01,281.0 332.13,284.9 332.25,287.0 332.37,283.7 332.49,286.1 332.61,282.6 332.73,285.4 332.85,285.5 332.97,285.4 333.09,283.1 333.21,286.3 333.33,286.6 333.45,286.3 333.57,289.1 333.69,284.9 333.81,285.8 333.93,287.4 334.05,283.3 334.17,284.0 334.29,287.3 334.41,284.9 334.53,284.2 334.65,286.3 334.77,283.3 334.89,285.7 335.01,283.8 335.13,284.4 335.25,281.2 335.37,285.8 335.49,285.9 335.61,285.2 335.73,284.4 335.85,285.9 335.97,287.9 336.09,286.9 336.21,284.4 336.33,285.9 336.45,285.1 336.57,286.4 336.69,284.2 336.81,287.9 336.93,284.3 337.05,283.9 337.17,286.1 337.29,288.2 337.41,282.8 337.53,285.6 337.65,286.5 337.77,289.9 337.89,283.1 338.01,287.3 338.13,284.4 338.25,285.0 338.37,287.1 338.49,285.6 338.61,283.3 338.73,285.2 338.85,284.9 338.97,285.8 339.09,284.0 339.21,284.4 339.33,285.0 339.45,285.5 339.57,285.2 339.69,286.2 339.81,286.5 339.93,286.0 340.05,284.4 340.17,283.0 340.29,284.1 340.41,284.4 340.53,285.1 340.65,286.9 340.77,285.3 340.89,283.9 341.01,283.3 341.13,285.2 341.25,285.0 341.37,283.7 341.49,282.8 341.61,284.8 341.73,286.0 341.85,285.7 341.97,283.1 342.09,284.7 342.21,285.1 342.33,283.8 342.45,285.2 342.57,284.3 342.69,286.9 342.81,284.3 342.93,288.0 343.05,287.0 343.17,286.0 343.29,285.8 343.41,287.7 343.53,284.9 343.65,286.1 343.77,285.1 343.89,287.9 344.01,285.0 344.13,285.1 344.25,281.3 344.37,285.9 344.49,284.9 344.61,286.4 344.73,283.1 344.85,284.1 344.97,287.6 345.09,284.2 345.21,285.8 345.33,286.9 345.45,285.6 345.57,285.6 345.69,287.4 345.81,284.6 345.93,286.4 346.05,285.1 346.18,283.7 346.30,285.6 346.42,287.6 346.54,285.2 346.66,284.4 346.78,285.2 346.90,284.7 347.02,286.3 347.14,283.9 347.26,286.9 347.38,286.2 347.50,287.5 347.62,284.8 347.74,287.0 347.86,283.9 347.98,286.5 348.10,285.1 348.22,283.7 348.34,286.8 348.46,287.8 348.58,288.4 348.70,286.2 348.82,285.1 348.94,287.9 349.06,290.9 349.18,285.7 349.30,283.1 349.42,285.7 349.54,285.9 349.66,284.9 349.78,287.2 349.90,285.3 350.02,286.3 350.14,286.4 350.26,285.3 350.38,281.4 350.50,284.8 350.62,285.8 350.74,283.9 350.86,285.6 350.98,283.1 351.10,286.5 351.22,286.5 351.34,286.1 351.46,284.7 351.58,286.0 351.70,283.5 351.82,284.2 351.94,286.2 352.06,284.4 352.18,285.1 352.30,285.4 352.42,287.2 352.54,284.4 352.66,284.6 352.78,284.3 352.90,282.8 353.02,285.8 353.14,282.1 353.26,284.1 353.38,287.5 353.50,285.5" fill="none" stroke="#0000ff" stroke-width="0.75" stroke-linejoin="round"/>
<rect x="235.7" y="179.3" width="118.4" height="139.7" fill="none" stroke="#707070" stroke-width="1.15"/>
<line x1="235.7" y1="319" x2="235.7" y2="321" stroke="#707070" stroke-width="0.9"/>
<line x1="235.7" y1="179.3" x2="235.7" y2="181.3" stroke="#707070" stroke-width="0.9"/>
<line x1="247.54" y1="319" x2="247.54" y2="320.3" stroke="#707070" stroke-width="0.9"/>
<line x1="247.54" y1="179.3" x2="247.54" y2="180.6" stroke="#707070" stroke-width="0.9"/>
<line x1="259.38" y1="319" x2="259.38" y2="321" stroke="#707070" stroke-width="0.9"/>
<line x1="259.38" y1="179.3" x2="259.38" y2="181.3" stroke="#707070" stroke-width="0.9"/>
<line x1="271.22" y1="319" x2="271.22" y2="320.3" stroke="#707070" stroke-width="0.9"/>
<line x1="271.22" y1="179.3" x2="271.22" y2="180.6" stroke="#707070" stroke-width="0.9"/>
<line x1="283.06" y1="319" x2="283.06" y2="321" stroke="#707070" stroke-width="0.9"/>
<line x1="283.06" y1="179.3" x2="283.06" y2="181.3" stroke="#707070" stroke-width="0.9"/>
<line x1="294.9" y1="319" x2="294.9" y2="320.3" stroke="#707070" stroke-width="0.9"/>
<line x1="294.9" y1="179.3" x2="294.9" y2="180.6" stroke="#707070" stroke-width="0.9"/>
<line x1="306.74" y1="319" x2="306.74" y2="321" stroke="#707070" stroke-width="0.9"/>
<line x1="306.74" y1="179.3" x2="306.74" y2="181.3" stroke="#707070" stroke-width="0.9"/>
<line x1="318.58" y1="319" x2="318.58" y2="320.3" stroke="#707070" stroke-width="0.9"/>
<line x1="318.58" y1="179.3" x2="318.58" y2="180.6" stroke="#707070" stroke-width="0.9"/>
<line x1="330.42" y1="319" x2="330.42" y2="321" stroke="#707070" stroke-width="0.9"/>
<line x1="330.42" y1="179.3" x2="330.42" y2="181.3" stroke="#707070" stroke-width="0.9"/>
<line x1="342.26" y1="319" x2="342.26" y2="320.3" stroke="#707070" stroke-width="0.9"/>
<line x1="342.26" y1="179.3" x2="342.26" y2="180.6" stroke="#707070" stroke-width="0.9"/>
<line x1="354.1" y1="319" x2="354.1" y2="321" stroke="#707070" stroke-width="0.9"/>
<line x1="354.1" y1="179.3" x2="354.1" y2="181.3" stroke="#707070" stroke-width="0.9"/>
<text x="235.9" y="330.6" text-anchor="middle" class="tk" textLength="5.45" lengthAdjust="spacingAndGlyphs">0</text>
<text x="259.58" y="330.6" text-anchor="middle" class="tk" textLength="5.45" lengthAdjust="spacingAndGlyphs">2</text>
<text x="283.26" y="330.6" text-anchor="middle" class="tk" textLength="5.45" lengthAdjust="spacingAndGlyphs">4</text>
<text x="306.94" y="330.6" text-anchor="middle" class="tk" textLength="5.45" lengthAdjust="spacingAndGlyphs">6</text>
<text x="330.62" y="330.6" text-anchor="middle" class="tk" textLength="5.45" lengthAdjust="spacingAndGlyphs">8</text>
<text x="354.3" y="330.6" text-anchor="middle" class="tk" textLength="10.9" lengthAdjust="spacingAndGlyphs">10</text>
<line x1="233.9" y1="180" x2="235.7" y2="180" stroke="#707070" stroke-width="1"/>
<text x="232.1" y="183.9" text-anchor="end" class="tk" textLength="13.62" lengthAdjust="spacingAndGlyphs">4.0</text>
<line x1="233.9" y1="201.4" x2="235.7" y2="201.4" stroke="#707070" stroke-width="1"/>
<text x="232.1" y="205.3" text-anchor="end" class="tk" textLength="13.62" lengthAdjust="spacingAndGlyphs">3.5</text>
<line x1="233.9" y1="223.4" x2="235.7" y2="223.4" stroke="#707070" stroke-width="1"/>
<text x="232.1" y="227.3" text-anchor="end" class="tk" textLength="13.62" lengthAdjust="spacingAndGlyphs">3.0</text>
<line x1="233.9" y1="246" x2="235.7" y2="246" stroke="#707070" stroke-width="1"/>
<text x="232.1" y="249.9" text-anchor="end" class="tk" textLength="13.62" lengthAdjust="spacingAndGlyphs">2.5</text>
<line x1="233.9" y1="268.3" x2="235.7" y2="268.3" stroke="#707070" stroke-width="1"/>
<text x="232.1" y="272.2" text-anchor="end" class="tk" textLength="13.62" lengthAdjust="spacingAndGlyphs">2.0</text>
<line x1="233.9" y1="290.5" x2="235.7" y2="290.5" stroke="#707070" stroke-width="1"/>
<text x="232.1" y="294.4" text-anchor="end" class="tk" textLength="13.62" lengthAdjust="spacingAndGlyphs">1.5</text>
<line x1="233.9" y1="319" x2="235.7" y2="319" stroke="#707070" stroke-width="1"/>
<text x="232.1" y="322.9" text-anchor="end" class="tk" textLength="13.62" lengthAdjust="spacingAndGlyphs">0.0</text>
<rect x="232.7" y="304.2" width="6" height="2.4" fill="#fff"/>
<line x1="233.1" y1="305.2" x2="238.3" y2="303" stroke="#707070" stroke-width="0.9"/>
<line x1="233.1" y1="307.8" x2="238.3" y2="305.6" stroke="#707070" stroke-width="0.9"/>
<text x="253.5" y="345.7" class="xt">Simulation Time (ns)</text>
<text transform="translate(195.2,295.2) rotate(-90)" class="yl" textLength="89.4" lengthAdjust="spacingAndGlyphs">Distance between</text>
<text transform="translate(209.3,295.7) rotate(-90)" class="yl" textLength="93.2" lengthAdjust="spacingAndGlyphs">MIDAS and Asp<tspan dy="-4.6" style="font-size:6.4px">RGD</tspan></text>
<defs>
<radialGradient id="gred" cx="0.5" cy="0.5" r="0.5" fx="0.34" fy="0.3"><stop offset="0" stop-color="#ffc8c8"/><stop offset="0.28" stop-color="#f40000"/><stop offset="0.72" stop-color="#c00000"/><stop offset="1" stop-color="#3a0000"/></radialGradient>
<radialGradient id="ggrn" cx="0.5" cy="0.5" r="0.5" fx="0.34" fy="0.3"><stop offset="0" stop-color="#a8f0c0"/><stop offset="0.28" stop-color="#14a848"/><stop offset="0.72" stop-color="#0a7a30"/><stop offset="1" stop-color="#002a0c"/></radialGradient>
<radialGradient id="gmag" cx="0.5" cy="0.5" r="0.5" fx="0.34" fy="0.3"><stop offset="0" stop-color="#f8b0e0"/><stop offset="0.28" stop-color="#c04c9c"/><stop offset="0.72" stop-color="#963074"/><stop offset="1" stop-color="#3a0a30"/></radialGradient>
<radialGradient id="gmg2" cx="0.5" cy="0.5" r="0.5" fx="0.34" fy="0.3"><stop offset="0" stop-color="#ffc8f0"/><stop offset="0.28" stop-color="#c8529e"/><stop offset="0.72" stop-color="#98306e"/><stop offset="1" stop-color="#400a34"/></radialGradient>
<radialGradient id="ggr2" cx="0.5" cy="0.5" r="0.5" fx="0.34" fy="0.3"><stop offset="0" stop-color="#b8ffc8"/><stop offset="0.28" stop-color="#28c04c"/><stop offset="0.72" stop-color="#12902e"/><stop offset="1" stop-color="#00380c"/></radialGradient>
<radialGradient id="gpur" cx="0.5" cy="0.5" r="0.5" fx="0.34" fy="0.3"><stop offset="0" stop-color="#f8b0ff"/><stop offset="0.28" stop-color="#b400cc"/><stop offset="0.72" stop-color="#82009a"/><stop offset="1" stop-color="#2e0036"/></radialGradient>
<radialGradient id="gsal" cx="0.5" cy="0.5" r="0.5" fx="0.34" fy="0.3"><stop offset="0" stop-color="#ffe0e0"/><stop offset="0.28" stop-color="#e89a94"/><stop offset="0.72" stop-color="#c46a66"/><stop offset="1" stop-color="#5a2626"/></radialGradient>
<radialGradient id="gcya" cx="0.5" cy="0.5" r="0.5" fx="0.34" fy="0.3"><stop offset="0" stop-color="#c0f8ff"/><stop offset="0.28" stop-color="#18b8cc"/><stop offset="0.72" stop-color="#0a8898"/><stop offset="1" stop-color="#003038"/></radialGradient>
<radialGradient id="ggry" cx="0.5" cy="0.5" r="0.5" fx="0.34" fy="0.3"><stop offset="0" stop-color="#ffffff"/><stop offset="0.28" stop-color="#ececec"/><stop offset="0.72" stop-color="#c0c0c0"/><stop offset="1" stop-color="#808080"/></radialGradient>
<radialGradient id="gred2" cx="0.42" cy="0.4" r="0.62" fx="0.34" fy="0.28"><stop offset="0" stop-color="#ffd8d8"/><stop offset="0.18" stop-color="#ff2a2a"/><stop offset="0.6" stop-color="#e00000"/><stop offset="0.82" stop-color="#900000"/><stop offset="1" stop-color="#1a0000"/></radialGradient>
<clipPath id="clipE"><rect x="373.5" y="28" width="150" height="136.5"/></clipPath>
<clipPath id="clipF"><rect x="373.5" y="190" width="145.5" height="129.5"/></clipPath>
<clipPath id="clipF2"><rect x="373.5" y="185" width="145.3" height="134.5"/></clipPath>
</defs>
<text x="375.6" y="30.8" class="pl">E</text>
<g clip-path="url(#clipE)">
<polygon points="373.5,80.0 376.0,83.0 379.0,98.0 377.0,116.0 379.0,134.0 381.0,150.0 380.0,165.0 373.5,165.0" fill="#d0d08c" fill-opacity="0.55" stroke="#7a7a40" stroke-width="0.8" stroke-opacity="0.55" stroke-linejoin="round"/>
<polygon points="379.0,92.0 385.0,95.0 388.0,110.0 387.0,126.0 382.0,122.0 380.0,108.0" fill="#c8c888" fill-opacity="0.5" stroke="#7a7a40" stroke-width="0.7" stroke-opacity="0.5" stroke-linejoin="round"/>
<polygon points="373.5,117.0 382.0,114.0 388.0,117.0 380.0,123.0 373.5,123.0" fill="#d8d040" fill-opacity="0.75" stroke-linejoin="round"/>
<polygon points="373.5,140.0 378.0,138.0 381.0,150.0 380.0,165.0 373.5,165.0" fill="#d8d040" fill-opacity="0.6" stroke-linejoin="round"/>
<path d="M393,77 C389,84 384,92 377,100" fill="none" stroke="#3a9caa" stroke-width="3.2" stroke-opacity="0.85" stroke-linecap="round" stroke-linejoin="round"/><path d="M393,77 C389,84 384,92 377,100" fill="none" stroke="#a4dce2" stroke-width="1.80" stroke-opacity="0.85" stroke-linecap="round" stroke-linejoin="round"/>
<path d="M372,101 C385,99 398,96 411,97" fill="none" stroke="#3a9caa" stroke-width="4.2" stroke-opacity="0.8" stroke-linecap="round" stroke-linejoin="round"/><path d="M372,101 C385,99 398,96 411,97" fill="none" stroke="#a4dce2" stroke-width="2.40" stroke-opacity="0.8" stroke-linecap="round" stroke-linejoin="round"/>
<path d="M406,69 C412,68 418,70 421,75 C423,79 422,83 420,86" fill="none" stroke="#3a9caa" stroke-width="3.6" stroke-opacity="0.8" stroke-linecap="round" stroke-linejoin="round"/><path d="M406,69 C412,68 418,70 421,75 C423,79 422,83 420,86" fill="none" stroke="#a4dce2" stroke-width="2.00" stroke-opacity="0.8" stroke-linecap="round" stroke-linejoin="round"/>
<path d="M388,118 C393,109 402,103 412,101" fill="none" stroke="#a8a8a8" stroke-width="3.4" stroke-opacity="0.9" stroke-linecap="round" stroke-linejoin="round"/><path d="M388,118 C393,109 402,103 412,101" fill="none" stroke="#f4f4f4" stroke-width="1.80" stroke-opacity="0.9" stroke-linecap="round" stroke-linejoin="round"/>
<path d="M417,109 C423,111 428,113 435,116" fill="none" stroke="#a8a8a8" stroke-width="3.2" stroke-opacity="0.9" stroke-linecap="round" stroke-linejoin="round"/><path d="M417,109 C423,111 428,113 435,116" fill="none" stroke="#f4f4f4" stroke-width="1.80" stroke-opacity="0.9" stroke-linecap="round" stroke-linejoin="round"/>
<path d="M408,88 C411,82 420,81 425,85 L424,91 C419,88 413,88 409,93 Z" fill="#b044b0" fill-opacity="0.62" stroke="#802078" stroke-width="0.7" stroke-opacity="0.62"/>
<path d="M416,84 C420,83 423,85 424,89 L420,90 C419,88 417,87 416,87 Z" fill="#6a1060" fill-opacity="0.5"/>
<path d="M422,86 C428,90 430,100 426,108 L422,106 C425,100 424,93 419,90 Z" fill="#b044b0" fill-opacity="0.58" stroke="#802078" stroke-width="0.7" stroke-opacity="0.58"/>
<path d="M427,104 C421,110 412,110 405,113 L405,119 C412,116 420,117 426,111 Z" fill="#b044b0" fill-opacity="0.62" stroke="#802078" stroke-width="0.7" stroke-opacity="0.62"/>
<path d="M404,113 C408,117 412,121 417,121 L415,125 C410,124 406,120 403,118 Z" fill="#b044b0" fill-opacity="0.58"/>
<path d="M411,96 C408,110 407,122 409,135 C410,146 411,153 415,159 C419,163 425,164 431,164" fill="none" stroke="#3c9eae" stroke-width="8" stroke-opacity="0.85" stroke-linecap="round" stroke-linejoin="round"/><path d="M411,96 C408,110 407,122 409,135 C410,146 411,153 415,159 C419,163 425,164 431,164" fill="none" stroke="#8ad2dc" stroke-width="5.00" stroke-opacity="0.85" stroke-linecap="round" stroke-linejoin="round"/>
<path d="M385,122 C395,123 405,124 413,125" fill="none" stroke="#3a9caa" stroke-width="2.2" stroke-opacity="0.9" stroke-linecap="round" stroke-linejoin="round"/><path d="M385,122 C395,123 405,124 413,125" fill="none" stroke="#a4dce2" stroke-width="1.00" stroke-opacity="0.9" stroke-linecap="round" stroke-linejoin="round"/>
<path d="M379,165 C380,152 389,146 398,150 L396,157 C390,154 386,158 386,165 Z" fill="#d838c8" fill-opacity="0.75" stroke="#a01890" stroke-width="0.7" stroke-opacity="0.75"/>
<path d="M392,165 C392,152 401,141 411,144 L410,151 C403,149 399,157 400,165 Z" fill="#d838c8" fill-opacity="0.75" stroke="#a01890" stroke-width="0.7" stroke-opacity="0.75"/>
<path d="M406,162 C406,150 414,141 424,145 L425,151 C417,148 412,154 413,163 Z" fill="#d838c8" fill-opacity="0.72" stroke="#a01890" stroke-width="0.7" stroke-opacity="0.72"/>
<path d="M384,159 C391,162 398,163 404,160 L406,165 L384,165 Z" fill="#b030a8" fill-opacity="0.55"/>
<path d="M407,150 C410,149 413,151 413,156 L409,157 Z" fill="#602070" fill-opacity="0.6"/>
<path d="M420,152 C424,154 427,158 428,164 L421,164 C420,160 419,156 418,153 Z" fill="#c040c0" fill-opacity="0.6"/>
<path d="M452,123 C446,130 441,140 437,151 C434,158 432,162 431,166" fill="none" stroke="#b4b090" stroke-width="3.6" stroke-opacity="0.9" stroke-linecap="round" stroke-linejoin="round"/><path d="M452,123 C446,130 441,140 437,151 C434,158 432,162 431,166" fill="none" stroke="#ecebd4" stroke-width="2.00" stroke-opacity="0.9" stroke-linecap="round" stroke-linejoin="round"/>
<path d="M441,146 C443,155 452,160 462,159 C468,157 470,152 467,149" fill="none" stroke="#a8a8a8" stroke-width="3.4" stroke-opacity="0.9" stroke-linecap="round" stroke-linejoin="round"/><path d="M441,146 C443,155 452,160 462,159 C468,157 470,152 467,149" fill="none" stroke="#f4f4f4" stroke-width="1.80" stroke-opacity="0.9" stroke-linecap="round" stroke-linejoin="round"/>
<path d="M457,120 C465,120 472,124 478,129 C485,134 492,140 494,146 C493,151 487,154 481,155 C476,157 472,160 468,165" fill="none" stroke="#3a9caa" stroke-width="4.2" stroke-opacity="0.85" stroke-linecap="round" stroke-linejoin="round"/><path d="M457,120 C465,120 472,124 478,129 C485,134 492,140 494,146 C493,151 487,154 481,155 C476,157 472,160 468,165" fill="none" stroke="#a4dce2" stroke-width="2.40" stroke-opacity="0.85" stroke-linecap="round" stroke-linejoin="round"/>
<polygon points="466.0,165.0 469.0,153.0 475.0,158.0 487.0,155.0 497.0,158.0 502.0,165.0" fill="#6a6ae0" fill-opacity="0.7" stroke-linejoin="round"/>
<polygon points="466.0,165.0 469.0,153.0 474.0,165.0" fill="#2828c8" fill-opacity="0.7" stroke-linejoin="round"/>
</g>
<ellipse cx="397.5" cy="68.1" rx="12.4" ry="10.4" fill="url(#gred2)" transform="rotate(28 397.5 68.1)"/>
<circle cx="427.6" cy="131.6" r="11.0" fill="url(#gred2)"/>
<circle cx="454.6" cy="144.2" r="9.8" fill="url(#gred2)"/>
<line x1="486.3" y1="31.6" x2="493.4" y2="37.0" stroke="#a03880" stroke-width="1.8" stroke-linecap="round"/>
<line x1="493.4" y1="37.0" x2="506.7" y2="33.9" stroke="#a03880" stroke-width="1.8" stroke-linecap="round"/>
<line x1="493.4" y1="37.0" x2="490.8" y2="43.7" stroke="#a03880" stroke-width="1.8" stroke-linecap="round"/>
<line x1="485.2" y1="38.4" x2="490.8" y2="43.7" stroke="#a03880" stroke-width="1.8" stroke-linecap="round"/>
<line x1="490.8" y1="43.7" x2="489.7" y2="55.5" stroke="#a03880" stroke-width="1.8" stroke-linecap="round"/>
<line x1="489.7" y1="55.5" x2="496.5" y2="58.4" stroke="#a03880" stroke-width="1.8" stroke-linecap="round"/>
<line x1="496.5" y1="58.4" x2="506.7" y2="33.9" stroke="#a03880" stroke-width="1.8" stroke-linecap="round"/>
<line x1="489.7" y1="55.5" x2="471.6" y2="68.6" stroke="#a03880" stroke-width="1.8" stroke-linecap="round"/>
<line x1="471.6" y1="68.6" x2="472.0" y2="58.0" stroke="#a03880" stroke-width="1.8" stroke-linecap="round"/>
<circle cx="486.3" cy="31.6" r="3.6" fill="url(#gmag)"/>
<circle cx="493.4" cy="37.0" r="5.0" fill="url(#gmag)"/>
<circle cx="506.7" cy="33.9" r="5.6" fill="url(#gmag)"/>
<circle cx="485.2" cy="38.4" r="3.2" fill="url(#gmag)"/>
<circle cx="490.8" cy="43.7" r="4.0" fill="url(#gmag)"/>
<circle cx="496.5" cy="58.4" r="4.6" fill="url(#gmag)"/>
<circle cx="489.7" cy="55.5" r="3.2" fill="url(#gmag)"/>
<circle cx="471.6" cy="68.6" r="4.6" fill="url(#gmag)"/>
<circle cx="472.0" cy="58.0" r="3.4" fill="url(#gmag)"/>
<circle cx="504.4" cy="65.2" r="2.7" fill="url(#gsal)"/>
<circle cx="503.3" cy="64.3" r="2.4" fill="url(#gsal)"/>
<circle cx="501.2" cy="65.7" r="2.4" fill="url(#gsal)"/>
<circle cx="499.2" cy="69.3" r="2.3" fill="url(#gsal)"/>
<circle cx="496.5" cy="67.3" r="2.3" fill="url(#gsal)"/>
<circle cx="495.9" cy="71.3" r="2.1" fill="url(#gsal)"/>
<circle cx="496.9" cy="68.2" r="2.5" fill="url(#gsal)"/>
<circle cx="494.6" cy="70.7" r="2.5" fill="url(#gsal)"/>
<circle cx="493.1" cy="69.6" r="2.8" fill="url(#gsal)"/>
<circle cx="492.4" cy="72.7" r="2.6" fill="url(#gsal)"/>
<circle cx="492.1" cy="72.2" r="2.2" fill="url(#gsal)"/>
<circle cx="491.5" cy="76.1" r="2.6" fill="url(#gsal)"/>
<circle cx="491.2" cy="72.3" r="2.4" fill="url(#gsal)"/>
<circle cx="489.0" cy="75.1" r="2.0" fill="url(#gsal)"/>
<circle cx="487.4" cy="74.4" r="2.1" fill="url(#gsal)"/>
<circle cx="486.3" cy="77.6" r="2.2" fill="url(#gsal)"/>
<circle cx="487.0" cy="75.2" r="2.3" fill="url(#gsal)"/>
<circle cx="485.4" cy="79.2" r="2.0" fill="url(#gsal)"/>
<circle cx="485.4" cy="75.1" r="2.6" fill="url(#gsal)"/>
<circle cx="475.0" cy="92.3" r="2.5" fill="url(#gsal)"/>
<circle cx="487.5" cy="85.5" r="2.2" fill="url(#gsal)"/>
<circle cx="472.0" cy="95.0" r="2.0" fill="url(#gsal)"/>
<circle cx="487.0" cy="80.5" r="2.4" fill="url(#gsal)"/>
<circle cx="491.5" cy="82.5" r="2.4" fill="url(#gsal)"/>
<circle cx="483.5" cy="82.0" r="2.2" fill="url(#gsal)"/>
<circle cx="476.0" cy="72.5" r="2.4" fill="url(#gsal)"/>
<line x1="464.9" y1="34.4" x2="466.0" y2="50.5" stroke="#129040" stroke-width="2.0" stroke-linecap="round"/>
<line x1="466.0" y1="50.5" x2="480.7" y2="60.7" stroke="#129040" stroke-width="2.0" stroke-linecap="round"/>
<line x1="480.7" y1="60.7" x2="496.8" y2="48.2" stroke="#129040" stroke-width="2.0" stroke-linecap="round"/>
<line x1="480.7" y1="60.7" x2="479.5" y2="83.2" stroke="#129040" stroke-width="2.0" stroke-linecap="round"/>
<line x1="466.0" y1="50.5" x2="453.6" y2="61.8" stroke="#129040" stroke-width="2.0" stroke-linecap="round"/>
<line x1="453.6" y1="61.8" x2="445.6" y2="55.0" stroke="#129040" stroke-width="2.0" stroke-linecap="round"/>
<line x1="453.6" y1="61.8" x2="452.4" y2="79.9" stroke="#129040" stroke-width="2.0" stroke-linecap="round"/>
<line x1="452.4" y1="79.9" x2="464.9" y2="90.0" stroke="#129040" stroke-width="2.0" stroke-linecap="round"/>
<line x1="479.5" y1="83.2" x2="464.9" y2="90.0" stroke="#129040" stroke-width="2.0" stroke-linecap="round"/>
<line x1="464.9" y1="90.0" x2="455.5" y2="87.5" stroke="#129040" stroke-width="2.0" stroke-linecap="round"/>
<line x1="464.9" y1="90.0" x2="466.5" y2="101.0" stroke="#129040" stroke-width="2.0" stroke-linecap="round"/>
<line x1="479.5" y1="83.2" x2="493.1" y2="93.4" stroke="#129040" stroke-width="2.0" stroke-linecap="round"/>
<line x1="452.4" y1="79.9" x2="444.5" y2="85.5" stroke="#129040" stroke-width="2.0" stroke-linecap="round"/>
<line x1="444.5" y1="85.5" x2="443.4" y2="94.6" stroke="#129040" stroke-width="2.0" stroke-linecap="round"/>
<line x1="443.4" y1="94.6" x2="450.2" y2="94.6" stroke="#129040" stroke-width="2.0" stroke-linecap="round"/>
<line x1="450.2" y1="94.6" x2="455.5" y2="87.5" stroke="#129040" stroke-width="2.0" stroke-linecap="round"/>
<line x1="452.4" y1="79.9" x2="452.4" y2="70.8" stroke="#129040" stroke-width="2.0" stroke-linecap="round"/>
<line x1="452.4" y1="70.8" x2="460.3" y2="74.2" stroke="#129040" stroke-width="2.0" stroke-linecap="round"/>
<line x1="460.3" y1="74.2" x2="479.5" y2="83.2" stroke="#129040" stroke-width="2.0" stroke-linecap="round"/>
<circle cx="455.5" cy="87.5" r="3.0" fill="url(#ggrn)"/>
<circle cx="452.4" cy="70.8" r="3.0" fill="url(#ggrn)"/>
<circle cx="443.4" cy="94.6" r="3.2" fill="url(#ggrn)"/>
<circle cx="466.5" cy="101.0" r="3.2" fill="url(#ggrn)"/>
<circle cx="450.2" cy="94.6" r="3.4" fill="url(#ggrn)"/>
<circle cx="460.3" cy="74.2" r="3.4" fill="url(#ggrn)"/>
<circle cx="445.6" cy="55.0" r="3.6" fill="url(#ggrn)"/>
<circle cx="444.5" cy="85.5" r="4.0" fill="url(#ggrn)"/>
<circle cx="493.1" cy="93.4" r="4.6" fill="url(#ggrn)"/>
<clipPath id="capE"><rect x="455" y="29.6" width="20" height="20"/></clipPath>
<g clip-path="url(#capE)"><circle cx="464.9" cy="33.8" r="5.3" fill="url(#ggrn)"/></g>
<ellipse cx="464.9" cy="29.9" rx="4.2" ry="0.9" fill="#0c6a26"/>
<circle cx="453.6" cy="61.8" r="5.2" fill="url(#ggrn)"/>
<circle cx="452.4" cy="79.9" r="5.2" fill="url(#ggrn)"/>
<circle cx="464.9" cy="90.0" r="5.6" fill="url(#ggrn)"/>
<circle cx="496.8" cy="48.2" r="7.2" fill="url(#ggrn)"/>
<circle cx="466.0" cy="50.5" r="7.6" fill="url(#ggrn)"/>
<circle cx="479.5" cy="83.2" r="7.6" fill="url(#ggrn)"/>
<circle cx="480.7" cy="60.7" r="8.2" fill="url(#ggrn)"/>
<circle cx="455.5" cy="96.9" r="2.0" fill="url(#gcya)"/>
<circle cx="465.0" cy="80.4" r="2.0" fill="url(#gcya)"/>
<circle cx="466.5" cy="84.5" r="1.5" fill="url(#gcya)"/>
<circle cx="461.0" cy="94.0" r="1.6" fill="url(#gcya)"/>
<line x1="450.4" y1="105.3" x2="454.7" y2="102.0" stroke="#9a00b0" stroke-width="1.6" stroke-linecap="round"/>
<line x1="454.7" y1="102.0" x2="461.4" y2="107.9" stroke="#9a00b0" stroke-width="1.6" stroke-linecap="round"/>
<line x1="450.4" y1="105.3" x2="451.3" y2="115.5" stroke="#9a00b0" stroke-width="1.6" stroke-linecap="round"/>
<line x1="451.3" y1="115.5" x2="457.2" y2="119.7" stroke="#9a00b0" stroke-width="1.6" stroke-linecap="round"/>
<line x1="451.3" y1="115.5" x2="442.0" y2="119.5" stroke="#9a00b0" stroke-width="1.6" stroke-linecap="round"/>
<line x1="442.0" y1="119.5" x2="434.4" y2="117.6" stroke="#9a00b0" stroke-width="1.6" stroke-linecap="round"/>
<line x1="442.0" y1="119.5" x2="441.3" y2="127.0" stroke="#9a00b0" stroke-width="1.6" stroke-linecap="round"/>
<line x1="444.5" y1="102.0" x2="450.4" y2="105.3" stroke="#9a00b0" stroke-width="1.6" stroke-linecap="round"/>
<line x1="454.7" y1="102.0" x2="458.5" y2="100.8" stroke="#9a00b0" stroke-width="1.6" stroke-linecap="round"/>
<circle cx="444.5" cy="102.0" r="2.3" fill="url(#gpur)"/>
<circle cx="450.4" cy="105.3" r="3.1" fill="url(#gpur)"/>
<circle cx="454.7" cy="102.0" r="3.4" fill="url(#gpur)"/>
<circle cx="458.5" cy="100.8" r="2.5" fill="url(#gpur)"/>
<circle cx="461.4" cy="107.9" r="3.1" fill="url(#gpur)"/>
<circle cx="451.3" cy="115.5" r="3.1" fill="url(#gpur)"/>
<circle cx="457.2" cy="119.7" r="2.2" fill="url(#gpur)"/>
<circle cx="442.0" cy="119.5" r="3.1" fill="url(#gpur)"/>
<circle cx="434.4" cy="117.6" r="2.6" fill="url(#gpur)"/>
<circle cx="441.3" cy="127.0" r="2.7" fill="url(#gpur)"/>
<circle cx="450.3" cy="115.0" r="3.0" fill="url(#gpur)"/>
<text x="508" y="161.2" class="mt">Cyclic</text>
<text x="374.6" y="182.7" class="pl">F</text>
<g clip-path="url(#clipF)">
<polygon points="373.4,219.5 384.0,211.0 387.0,204.5 393.0,204.0 399.0,207.0 403.0,213.5 398.0,219.0 390.0,222.0 386.0,224.0 374.0,231.0" fill="#d070d0" fill-opacity="0.62" stroke="#9a3a9a" stroke-width="0.8" stroke-opacity="0.62" stroke-linejoin="round"/>
<ellipse cx="394.5" cy="209.5" rx="7" ry="3.6" transform="rotate(25 394.5 209.5)" fill="#f4e4f4" fill-opacity="0.7" stroke="#a04aa0" stroke-width="0.8" stroke-opacity="0.7"/>
<path d="M389,214 C387,224 386,234 390,246" fill="none" stroke="#a8a0a8" stroke-width="5.5" stroke-opacity="0.7" stroke-linecap="round" stroke-linejoin="round"/><path d="M389,214 C387,224 386,234 390,246" fill="none" stroke="#f0eef0" stroke-width="3.40" stroke-opacity="0.7" stroke-linecap="round" stroke-linejoin="round"/>
<path d="M373,234 C380,233 386,229 392,225 C398,222 404,222 408,225 C410,227 411,229 411,231" fill="none" stroke="#3a9caa" stroke-width="2.6" stroke-opacity="0.85" stroke-linecap="round" stroke-linejoin="round"/><path d="M373,234 C380,233 386,229 392,225 C398,222 404,222 408,225 C410,227 411,229 411,231" fill="none" stroke="#a4dce2" stroke-width="1.30" stroke-opacity="0.85" stroke-linecap="round" stroke-linejoin="round"/>
<path d="M390,232 C393,235 396,238 398,241" fill="none" stroke="#3a9caa" stroke-width="2.0" stroke-opacity="0.8" stroke-linecap="round" stroke-linejoin="round"/><path d="M390,232 C393,235 396,238 398,241" fill="none" stroke="#a4dce2" stroke-width="1.00" stroke-opacity="0.8" stroke-linecap="round" stroke-linejoin="round"/>
<path d="M385,239 C389,246 396,249 408,248 C418,246 424,241 431,241 C435,243 435,250 431,255 C426,258 418,258 410,256 C400,256 392,254 386,249 Z" fill="#4646e0" fill-opacity="0.72" stroke="#2828b0" stroke-width="0.8" stroke-opacity="0.72"/>
<path d="M408,248 C416,246 424,243 429,244 C428,251 424,256 418,262 C414,258 410,253 408,248 Z" fill="#1818c8" fill-opacity="0.65"/>
<path d="M413,262 C416,264 420,266 421,270 C418,271 414,270 412,266 Z" fill="#8a40c0" fill-opacity="0.6"/>
<polygon points="388.6,249.7 392.4,251.0 380.0,270.0 376.2,278.0 374.2,276.0" fill="#c8c060" fill-opacity="0.75" stroke="#7a7420" stroke-width="0.6" stroke-opacity="0.75" stroke-linejoin="round"/>
<polygon points="394.9,254.3 398.0,256.0 384.0,272.0 380.0,283.0 376.2,282.3 378.0,272.0" fill="#d0c86c" fill-opacity="0.7" stroke="#7a7420" stroke-width="0.6" stroke-opacity="0.7" stroke-linejoin="round"/>
<polygon points="380.5,270.0 384.0,270.0 385.0,290.0 381.0,290.0" fill="#d4cc80" fill-opacity="0.55" stroke="#8a8430" stroke-width="0.5" stroke-opacity="0.55" stroke-linejoin="round"/>
<path d="M373,262 C382,258 392,255 402,254" fill="none" stroke="#a8a8a8" stroke-width="3" stroke-opacity="0.85" stroke-linecap="round" stroke-linejoin="round"/><path d="M373,262 C382,258 392,255 402,254" fill="none" stroke="#f4f4f4" stroke-width="1.60" stroke-opacity="0.85" stroke-linecap="round" stroke-linejoin="round"/>
<path d="M373,283 C386,279 398,274 408,268 C412,265 414,262 416,258" fill="none" stroke="#a8a8a8" stroke-width="3.2" stroke-opacity="0.9" stroke-linecap="round" stroke-linejoin="round"/><path d="M373,283 C386,279 398,274 408,268 C412,265 414,262 416,258" fill="none" stroke="#f4f4f4" stroke-width="1.70" stroke-opacity="0.9" stroke-linecap="round" stroke-linejoin="round"/>
<path d="M373,293 C388,290 402,284 412,277" fill="none" stroke="#a8a8a8" stroke-width="3.2" stroke-opacity="0.9" stroke-linecap="round" stroke-linejoin="round"/><path d="M373,293 C388,290 402,284 412,277" fill="none" stroke="#f4f4f4" stroke-width="1.70" stroke-opacity="0.9" stroke-linecap="round" stroke-linejoin="round"/>
<path d="M373,307 C392,303 412,300 432,296" fill="none" stroke="#a8a8a8" stroke-width="3.4" stroke-opacity="0.9" stroke-linecap="round" stroke-linejoin="round"/><path d="M373,307 C392,303 412,300 432,296" fill="none" stroke="#f4f4f4" stroke-width="1.80" stroke-opacity="0.9" stroke-linecap="round" stroke-linejoin="round"/>
<path d="M392,316 C410,314 426,312 444,306" fill="none" stroke="#a8a8a8" stroke-width="3.2" stroke-opacity="0.85" stroke-linecap="round" stroke-linejoin="round"/><path d="M392,316 C410,314 426,312 444,306" fill="none" stroke="#f4f4f4" stroke-width="1.70" stroke-opacity="0.85" stroke-linecap="round" stroke-linejoin="round"/>
<path d="M396,292 C397,285 404,282 410,285 L408,290 C404,288 401,290 401,295 Z" fill="#c850c0" fill-opacity="0.65" stroke="#902080" stroke-width="0.6" stroke-opacity="0.65"/>
<path d="M403,297 C405,290 410,288 414,291 L412,296 C410,294 408,296 408,300 Z" fill="#c850c0" fill-opacity="0.6" stroke="#902080" stroke-width="0.6" stroke-opacity="0.6"/>
<path d="M384,319 C388,311 396,306 402,310 C404,314 402,318 400,320 Z" fill="#d47ad4" fill-opacity="0.6"/>
<path d="M406,320 C410,316 416,316 418,320 Z" fill="#d47ad4" fill-opacity="0.5"/>
<path d="M374,292 C376,298 382,302 392,303 C400,303 407,301 412,298 C416,295 418,292 419,290" fill="none" stroke="#3a9caa" stroke-width="2.2" stroke-opacity="0.9" stroke-linecap="round" stroke-linejoin="round"/><path d="M374,292 C376,298 382,302 392,303 C400,303 407,301 412,298 C416,295 418,292 419,290" fill="none" stroke="#a4dce2" stroke-width="1.00" stroke-opacity="0.9" stroke-linecap="round" stroke-linejoin="round"/>
<path d="M425,287 C418,292 417,300 421,305 C420,311 414,316 408,322" fill="none" stroke="#aaa470" stroke-width="3.4" stroke-opacity="0.85" stroke-linecap="round" stroke-linejoin="round"/><path d="M425,287 C418,292 417,300 421,305 C420,311 414,316 408,322" fill="none" stroke="#dcd8a4" stroke-width="1.90" stroke-opacity="0.85" stroke-linecap="round" stroke-linejoin="round"/>
<path d="M432,299 C436,296 440,297 442,300" fill="none" stroke="#aaa470" stroke-width="3" stroke-opacity="0.8" stroke-linecap="round" stroke-linejoin="round"/><path d="M432,299 C436,296 440,297 442,300" fill="none" stroke="#dcd8a4" stroke-width="1.60" stroke-opacity="0.8" stroke-linecap="round" stroke-linejoin="round"/>
<path d="M428,302 C434,294 443,285 452,285 C458,285 462,292 468,299 C472,302 480,301 484,302 C487,305 482,308 474,309 C466,310 458,310 450,306" fill="none" stroke="#a0a0a0" stroke-width="5" stroke-opacity="0.95" stroke-linecap="round" stroke-linejoin="round"/><path d="M428,302 C434,294 443,285 452,285 C458,285 462,292 468,299 C472,302 480,301 484,302 C487,305 482,308 474,309 C466,310 458,310 450,306" fill="none" stroke="#f2f2f2" stroke-width="3.20" stroke-opacity="0.95" stroke-linecap="round" stroke-linejoin="round"/>
<path d="M447,318 C455,313 463,308 473,306" fill="none" stroke="#a8a8a8" stroke-width="3" stroke-opacity="0.9" stroke-linecap="round" stroke-linejoin="round"/><path d="M447,318 C455,313 463,308 473,306" fill="none" stroke="#f4f4f4" stroke-width="1.60" stroke-opacity="0.9" stroke-linecap="round" stroke-linejoin="round"/>
</g>
<g clip-path="url(#clipF2)">
<circle cx="460.0" cy="305.0" r="5.2" fill="url(#ggry)"/>
<ellipse cx="405.4" cy="234.8" rx="9.0" ry="7.2" fill="url(#gred2)" transform="rotate(10 405.4 234.8)"/>
<circle cx="421.2" cy="278.5" r="10.2" fill="url(#gred2)"/>
<circle cx="440.0" cy="308.3" r="10.2" fill="url(#gred2)"/>
<ellipse cx="440" cy="308" rx="9.5" ry="2.6" fill="#ffb0b0" fill-opacity="0.55" transform="rotate(-18 440 308)"/>
<path d="M431,301 C436,298 446,296 449,300" fill="none" stroke="#ffffff" stroke-opacity="0.35" stroke-width="2.5"/>
<line x1="444.6" y1="198.6" x2="448.0" y2="208.7" stroke="#129040" stroke-width="1.5" stroke-linecap="round"/>
<line x1="461.5" y1="202.0" x2="456.4" y2="210.4" stroke="#129040" stroke-width="1.5" stroke-linecap="round"/>
<line x1="448.0" y1="208.7" x2="456.4" y2="210.4" stroke="#129040" stroke-width="1.5" stroke-linecap="round"/>
<line x1="448.0" y1="208.7" x2="440.3" y2="218.0" stroke="#129040" stroke-width="1.5" stroke-linecap="round"/>
<line x1="440.3" y1="218.0" x2="432.7" y2="218.9" stroke="#129040" stroke-width="1.5" stroke-linecap="round"/>
<line x1="456.4" y1="210.4" x2="459.8" y2="219.7" stroke="#129040" stroke-width="1.5" stroke-linecap="round"/>
<line x1="440.3" y1="218.0" x2="446.3" y2="228.2" stroke="#129040" stroke-width="1.5" stroke-linecap="round"/>
<line x1="459.8" y1="219.7" x2="454.7" y2="229.0" stroke="#129040" stroke-width="1.5" stroke-linecap="round"/>
<line x1="446.3" y1="228.2" x2="454.7" y2="229.0" stroke="#129040" stroke-width="1.5" stroke-linecap="round"/>
<line x1="446.3" y1="228.2" x2="441.2" y2="235.0" stroke="#129040" stroke-width="1.5" stroke-linecap="round"/>
<line x1="454.7" y1="229.0" x2="455.6" y2="237.5" stroke="#129040" stroke-width="1.5" stroke-linecap="round"/>
<line x1="455.6" y1="237.5" x2="450.5" y2="240.0" stroke="#129040" stroke-width="1.5" stroke-linecap="round"/>
<line x1="459.8" y1="219.7" x2="465.8" y2="220.6" stroke="#129040" stroke-width="1.5" stroke-linecap="round"/>
<line x1="455.6" y1="237.5" x2="458.0" y2="246.0" stroke="#129040" stroke-width="1.5" stroke-linecap="round"/>
<line x1="458.0" y1="246.0" x2="462.0" y2="252.0" stroke="#129040" stroke-width="1.5" stroke-linecap="round"/>
<line x1="458.0" y1="246.0" x2="452.0" y2="248.0" stroke="#129040" stroke-width="1.5" stroke-linecap="round"/>
<line x1="458.0" y1="246.0" x2="461.7" y2="245.3" stroke="#129040" stroke-width="1.5" stroke-linecap="round"/>
<line x1="511.5" y1="204.5" x2="508.1" y2="218.0" stroke="#a03070" stroke-width="1.7" stroke-linecap="round"/>
<line x1="508.1" y1="218.0" x2="488.6" y2="226.5" stroke="#a03070" stroke-width="1.7" stroke-linecap="round"/>
<line x1="488.6" y1="226.5" x2="475.0" y2="218.0" stroke="#a03070" stroke-width="1.7" stroke-linecap="round"/>
<line x1="475.0" y1="218.0" x2="473.4" y2="207.9" stroke="#a03070" stroke-width="1.7" stroke-linecap="round"/>
<line x1="475.0" y1="218.0" x2="477.6" y2="213.0" stroke="#a03070" stroke-width="1.7" stroke-linecap="round"/>
<line x1="488.6" y1="226.5" x2="486.1" y2="233.3" stroke="#a03070" stroke-width="1.7" stroke-linecap="round"/>
<line x1="486.1" y1="233.3" x2="490.3" y2="237.6" stroke="#a03070" stroke-width="1.7" stroke-linecap="round"/>
<line x1="490.3" y1="237.6" x2="475.3" y2="241.0" stroke="#a03070" stroke-width="1.7" stroke-linecap="round"/>
<line x1="475.3" y1="241.0" x2="470.2" y2="243.6" stroke="#a03070" stroke-width="1.7" stroke-linecap="round"/>
<line x1="490.3" y1="237.6" x2="499.8" y2="247.0" stroke="#a03070" stroke-width="1.7" stroke-linecap="round"/>
<line x1="499.8" y1="247.0" x2="513.4" y2="245.3" stroke="#a03070" stroke-width="1.7" stroke-linecap="round"/>
<line x1="499.8" y1="247.0" x2="495.6" y2="256.3" stroke="#a03070" stroke-width="1.7" stroke-linecap="round"/>
<line x1="508.1" y1="218.0" x2="519.0" y2="225.6" stroke="#a03070" stroke-width="1.7" stroke-linecap="round"/>
<line x1="475.0" y1="218.0" x2="464.0" y2="224.8" stroke="#a03070" stroke-width="1.7" stroke-linecap="round"/>
<circle cx="513.7" cy="230.7" r="3.0" fill="url(#gsal)"/>
<circle cx="508.6" cy="236.6" r="3.0" fill="url(#gsal)"/>
<circle cx="500.1" cy="239.2" r="2.5" fill="url(#gsal)"/>
<circle cx="512.0" cy="240.0" r="2.6" fill="url(#gsal)"/>
<circle cx="518.5" cy="240.0" r="2.5" fill="url(#gsal)"/>
<circle cx="491.0" cy="242.6" r="2.0" fill="url(#gsal)"/>
<circle cx="505.0" cy="242.0" r="2.5" fill="url(#gsal)"/>
<circle cx="470.0" cy="251.0" r="2.0" fill="url(#gsal)"/>
<circle cx="474.0" cy="254.0" r="2.2" fill="url(#gsal)"/>
<circle cx="478.0" cy="252.0" r="2.0" fill="url(#gsal)"/>
<circle cx="482.0" cy="256.0" r="2.0" fill="url(#gsal)"/>
<circle cx="477.0" cy="259.0" r="2.0" fill="url(#gsal)"/>
<circle cx="485.0" cy="260.0" r="2.0" fill="url(#gsal)"/>
<circle cx="469.0" cy="257.0" r="1.8" fill="url(#gsal)"/>
<circle cx="475.0" cy="267.6" r="1.6" fill="url(#gsal)"/>
<circle cx="503.0" cy="250.0" r="2.0" fill="url(#gsal)"/>
<ellipse cx="511.5" cy="204.5" rx="6.2" ry="4.5" fill="url(#gmg2)" transform="rotate(-20 511.5 204.5)"/>
<ellipse cx="508.1" cy="218.0" rx="7.8" ry="5.6" fill="url(#gmg2)" transform="rotate(-20 508.1 218.0)"/>
<ellipse cx="473.4" cy="207.9" rx="3.9" ry="3.9" fill="url(#gmg2)" transform="rotate(-20 473.4 207.9)"/>
<ellipse cx="477.6" cy="213.0" rx="3.4" ry="3.4" fill="url(#gmg2)" transform="rotate(-20 477.6 213.0)"/>
<ellipse cx="475.0" cy="218.0" rx="5.0" ry="5.0" fill="url(#gmg2)" transform="rotate(-20 475.0 218.0)"/>
<ellipse cx="488.6" cy="226.5" rx="6.2" ry="5.0" fill="url(#gmg2)" transform="rotate(-20 488.6 226.5)"/>
<ellipse cx="486.1" cy="233.3" rx="4.5" ry="4.5" fill="url(#gmg2)" transform="rotate(-20 486.1 233.3)"/>
<ellipse cx="490.3" cy="237.6" rx="4.5" ry="4.5" fill="url(#gmg2)" transform="rotate(-20 490.3 237.6)"/>
<ellipse cx="475.3" cy="241.0" rx="3.9" ry="3.9" fill="url(#gmg2)" transform="rotate(-20 475.3 241.0)"/>
<ellipse cx="470.2" cy="243.6" rx="2.8" ry="2.8" fill="url(#gmg2)" transform="rotate(-20 470.2 243.6)"/>
<ellipse cx="499.8" cy="247.0" rx="5.6" ry="4.5" fill="url(#gmg2)" transform="rotate(-20 499.8 247.0)"/>
<ellipse cx="513.4" cy="245.3" rx="4.5" ry="4.5" fill="url(#gmg2)" transform="rotate(-20 513.4 245.3)"/>
<ellipse cx="495.6" cy="256.3" rx="4.5" ry="4.5" fill="url(#gmg2)" transform="rotate(-20 495.6 256.3)"/>
<ellipse cx="519.0" cy="225.6" rx="4.0" ry="4.0" fill="url(#gmg2)" transform="rotate(-20 519.0 225.6)"/>
<ellipse cx="464.0" cy="224.8" rx="2.8" ry="2.8" fill="url(#gmg2)" transform="rotate(-20 464.0 224.8)"/>
<circle cx="441.2" cy="235.0" r="2.3" fill="url(#ggr2)"/>
<circle cx="450.5" cy="240.0" r="2.3" fill="url(#ggr2)"/>
<circle cx="465.8" cy="220.6" r="2.3" fill="url(#ggr2)"/>
<circle cx="452.0" cy="248.0" r="2.3" fill="url(#ggr2)"/>
<circle cx="432.7" cy="218.9" r="2.6" fill="url(#ggr2)"/>
<circle cx="461.5" cy="202.0" r="2.9" fill="url(#ggr2)"/>
<circle cx="462.0" cy="252.0" r="2.9" fill="url(#ggr2)"/>
<circle cx="461.7" cy="245.3" r="2.9" fill="url(#ggr2)"/>
<circle cx="444.6" cy="198.6" r="3.2" fill="url(#ggr2)"/>
<circle cx="459.8" cy="219.7" r="3.4" fill="url(#ggr2)"/>
<circle cx="455.6" cy="237.5" r="3.4" fill="url(#ggr2)"/>
<circle cx="458.0" cy="246.0" r="3.4" fill="url(#ggr2)"/>
<circle cx="446.3" cy="228.2" r="3.7" fill="url(#ggr2)"/>
<circle cx="454.7" cy="229.0" r="3.7" fill="url(#ggr2)"/>
<circle cx="448.0" cy="208.7" r="4.0" fill="url(#ggr2)"/>
<circle cx="456.4" cy="210.4" r="4.0" fill="url(#ggr2)"/>
<circle cx="440.3" cy="218.0" r="4.0" fill="url(#ggr2)"/>
<line x1="433.4" y1="276.1" x2="441.0" y2="272.7" stroke="#9a00b0" stroke-width="1.5" stroke-linecap="round"/>
<line x1="441.0" y1="272.7" x2="439.3" y2="266.8" stroke="#9a00b0" stroke-width="1.5" stroke-linecap="round"/>
<line x1="441.0" y1="272.7" x2="450.3" y2="275.3" stroke="#9a00b0" stroke-width="1.5" stroke-linecap="round"/>
<line x1="450.3" y1="275.3" x2="448.6" y2="279.5" stroke="#9a00b0" stroke-width="1.5" stroke-linecap="round"/>
<line x1="450.3" y1="275.3" x2="454.6" y2="280.3" stroke="#9a00b0" stroke-width="1.5" stroke-linecap="round"/>
<line x1="450.3" y1="275.3" x2="456.3" y2="267.6" stroke="#9a00b0" stroke-width="1.5" stroke-linecap="round"/>
<line x1="456.3" y1="267.6" x2="451.2" y2="265.0" stroke="#9a00b0" stroke-width="1.5" stroke-linecap="round"/>
<line x1="456.3" y1="267.6" x2="460.5" y2="261.7" stroke="#9a00b0" stroke-width="1.5" stroke-linecap="round"/>
<line x1="460.5" y1="261.7" x2="463.0" y2="270.2" stroke="#9a00b0" stroke-width="1.5" stroke-linecap="round"/>
<line x1="463.0" y1="270.2" x2="466.4" y2="275.3" stroke="#9a00b0" stroke-width="1.5" stroke-linecap="round"/>
<line x1="460.5" y1="261.7" x2="468.0" y2="263.4" stroke="#9a00b0" stroke-width="1.5" stroke-linecap="round"/>
<line x1="430.0" y1="277.0" x2="426.0" y2="278.0" stroke="#9a00b0" stroke-width="1.6" stroke-linecap="round"/>
<circle cx="433.4" cy="276.1" r="2.5" fill="url(#gpur)"/>
<circle cx="441.0" cy="272.7" r="3.0" fill="url(#gpur)"/>
<circle cx="439.3" cy="266.8" r="2.5" fill="url(#gpur)"/>
<circle cx="450.3" cy="275.3" r="3.0" fill="url(#gpur)"/>
<circle cx="448.6" cy="279.5" r="2.0" fill="url(#gpur)"/>
<circle cx="454.6" cy="280.3" r="2.0" fill="url(#gpur)"/>
<circle cx="456.3" cy="267.6" r="3.0" fill="url(#gpur)"/>
<circle cx="451.2" cy="265.0" r="2.0" fill="url(#gpur)"/>
<circle cx="460.5" cy="261.7" r="3.0" fill="url(#gpur)"/>
<circle cx="463.0" cy="270.2" r="2.5" fill="url(#gpur)"/>
<circle cx="466.4" cy="275.3" r="2.0" fill="url(#gpur)"/>
<circle cx="468.0" cy="263.4" r="3.0" fill="url(#gpur)"/>
<circle cx="461.7" cy="261.4" r="3.0" fill="url(#gpur)"/>
<circle cx="463.4" cy="270.7" r="3.0" fill="url(#gpur)"/>
<circle cx="466.8" cy="275.0" r="2.0" fill="url(#gpur)"/>
<circle cx="463.9" cy="266.8" r="2.5" fill="url(#gcya)"/>
<circle cx="469.8" cy="269.3" r="2.5" fill="url(#gcya)"/>
<circle cx="474.0" cy="264.2" r="2.5" fill="url(#gcya)"/>
<circle cx="473.2" cy="273.6" r="1.6" fill="url(#gcya)"/>
<circle cx="475.8" cy="261.7" r="1.8" fill="url(#gcya)"/>
<circle cx="467.0" cy="262.0" r="2.0" fill="url(#gcya)"/>
</g>
<text x="508" y="314" class="mt">Linear</text>
</svg>
</body></html>
